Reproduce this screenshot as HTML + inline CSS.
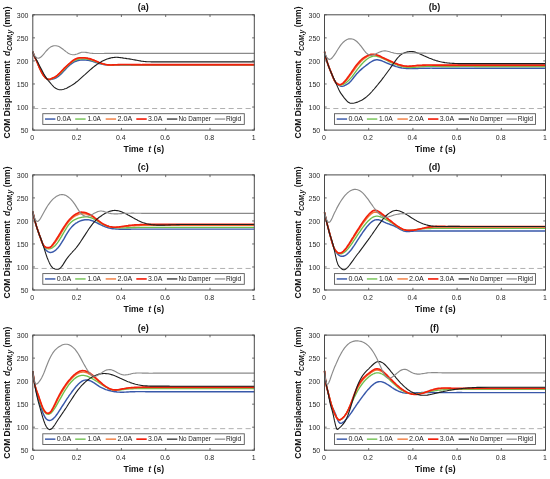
<!DOCTYPE html>
<html><head><meta charset="utf-8"><style>
html,body{margin:0;padding:0;background:#fff;}
svg{display:block;filter:blur(0.3px);}
text{font-family:"Liberation Sans",Arial,sans-serif;}
.tk{font-size:7.6px;fill:#262626;}
.lg{font-size:7.2px;fill:#222;}
.bl{font-size:9px;font-weight:bold;fill:#111;}
</style></head><body>
<svg width="550" height="479" viewBox="0 0 550 479">
<rect width="550" height="479" fill="#fff"/>
<g>
<line x1="33.10" y1="108.52" x2="253.30" y2="108.52" stroke="#b0b0b0" stroke-width="1" stroke-dasharray="5.1 3.4"/>
<path d="M32.8 51.7L33.9 55.1L35.0 57.7L36.1 60.0L37.2 62.3L38.3 64.9L39.4 67.6L40.6 70.1L41.7 72.4L42.8 74.3L43.9 75.9L45.0 77.2L46.1 78.2L47.2 78.9L48.3 79.4L49.4 79.6L50.5 79.6L51.6 79.4L52.7 79.1L53.8 78.8L55.0 78.3L56.1 77.8L57.2 77.1L58.3 76.4L59.4 75.5L60.5 74.5L61.6 73.4L62.7 72.3L63.8 71.1L64.9 69.9L66.0 68.7L67.1 67.6L68.2 66.5L69.3 65.4L70.5 64.5L71.6 63.6L72.7 62.9L73.8 62.2L74.9 61.6L76.0 61.2L77.1 60.8L78.2 60.5L79.3 60.3L80.4 60.1L81.5 60.0L82.6 60.0L83.7 60.0L84.9 60.0L86.0 60.1L87.1 60.2L88.2 60.4L89.3 60.6L90.4 60.8L91.5 61.1L92.6 61.4L93.7 61.7L94.8 62.1L95.9 62.5L97.0 62.8L98.1 63.2L99.2 63.5L100.4 63.8L101.5 64.1L102.6 64.3L103.7 64.5L104.8 64.7L105.9 64.8L107.0 64.9L108.1 65.0L109.2 65.0L110.3 65.1L111.4 65.1L112.5 65.1L113.6 65.0L114.8 65.0L115.9 65.0L117.0 65.0L118.1 65.0L119.2 64.9L120.3 64.9L121.4 64.9L122.5 64.9L123.6 64.9L124.7 64.9L125.8 64.9L126.9 64.9L128.0 64.9L129.2 64.9L130.3 64.9L131.4 65.0L132.5 65.0L133.6 65.0L134.7 65.0L135.8 65.0L136.9 65.0L138.0 65.0L139.1 65.0L140.2 65.0L141.3 65.0L142.4 65.0L143.6 65.0L144.7 65.0L145.8 65.0L146.9 65.0L148.0 65.0L149.1 65.0L150.2 65.0L151.3 65.0L152.4 65.0L153.5 65.0L154.6 65.0L155.7 65.0L156.8 65.0L157.9 65.0L159.1 65.0L160.2 65.0L161.3 65.0L162.4 65.0L163.5 65.0L164.6 65.0L165.7 65.0L166.8 65.0L167.9 65.0L169.0 65.0L170.1 65.0L171.2 65.0L172.3 65.0L173.5 65.0L174.6 65.0L175.7 65.0L176.8 65.0L177.9 65.0L179.0 65.0L180.1 65.0L181.2 65.0L182.3 65.0L183.4 65.0L184.5 65.0L185.6 65.0L186.7 65.0L187.8 65.0L198.9 65.0L210.0 65.0L221.1 65.0L232.1 65.0L243.2 65.0L254.3 65.0" fill="none" stroke="#3858aa" stroke-width="1.45" stroke-linejoin="round"/>
<path d="M32.8 51.7L33.9 55.1L35.0 57.7L36.1 60.0L37.2 62.3L38.3 64.9L39.4 67.6L40.6 70.1L41.7 72.4L42.8 74.3L43.9 75.9L45.0 77.3L46.1 78.3L47.2 79.1L48.3 79.4L49.4 79.5L50.5 79.3L51.6 78.9L52.7 78.5L53.8 78.0L55.0 77.4L56.1 76.8L57.2 76.0L58.3 75.2L59.4 74.3L60.5 73.3L61.6 72.2L62.7 71.1L63.8 69.9L64.9 68.7L66.0 67.5L67.1 66.4L68.2 65.3L69.3 64.3L70.5 63.3L71.6 62.5L72.7 61.7L73.8 61.0L74.9 60.5L76.0 60.0L77.1 59.6L78.2 59.3L79.3 59.1L80.4 59.0L81.5 58.9L82.6 58.8L83.7 58.9L84.9 58.9L86.0 59.0L87.1 59.2L88.2 59.4L89.3 59.6L90.4 59.9L91.5 60.2L92.6 60.6L93.7 61.0L94.8 61.4L95.9 61.8L97.0 62.2L98.1 62.6L99.2 63.0L100.4 63.4L101.5 63.7L102.6 64.0L103.7 64.2L104.8 64.4L105.9 64.6L107.0 64.7L108.1 64.8L109.2 64.9L110.3 65.0L111.4 65.0L112.5 65.0L113.6 64.9L114.8 64.9L115.9 64.9L117.0 64.8L118.1 64.8L119.2 64.8L120.3 64.8L121.4 64.8L122.5 64.8L123.6 64.8L124.7 64.8L125.8 64.8L126.9 64.8L128.0 64.8L129.2 64.8L130.3 64.8L131.4 64.8L132.5 64.8L133.6 64.8L134.7 64.8L135.8 64.8L136.9 64.9L138.0 64.9L139.1 64.9L140.2 64.9L141.3 64.9L142.4 64.9L143.6 64.9L144.7 64.9L145.8 64.9L146.9 64.9L148.0 64.9L149.1 64.8L150.2 64.8L151.3 64.8L152.4 64.8L153.5 64.8L154.6 64.8L155.7 64.8L156.8 64.8L157.9 64.8L159.1 64.8L160.2 64.8L161.3 64.8L162.4 64.8L163.5 64.8L164.6 64.8L165.7 64.8L166.8 64.8L167.9 64.8L169.0 64.8L170.1 64.8L171.2 64.8L172.3 64.8L173.5 64.8L174.6 64.8L175.7 64.8L176.8 64.8L177.9 64.8L179.0 64.8L180.1 64.8L181.2 64.8L182.3 64.8L183.4 64.8L184.5 64.8L185.6 64.8L186.7 64.8L187.8 64.8L198.9 64.8L210.0 64.8L221.1 64.8L232.1 64.8L243.2 64.8L254.3 64.8" fill="none" stroke="#6cbf4c" stroke-width="1.35" stroke-linejoin="round"/>
<path d="M32.8 51.7L33.9 55.1L35.0 57.7L36.1 60.0L37.2 62.3L38.3 64.9L39.4 67.6L40.6 70.1L41.7 72.4L42.8 74.3L43.9 76.0L45.0 77.3L46.1 78.4L47.2 79.1L48.3 79.4L49.4 79.4L50.5 79.1L51.6 78.7L52.7 78.2L53.8 77.7L55.0 77.1L56.1 76.4L57.2 75.6L58.3 74.7L59.4 73.6L60.5 72.5L61.6 71.4L62.7 70.2L63.8 69.1L64.9 67.9L66.0 66.9L67.1 65.8L68.2 64.8L69.3 63.8L70.5 62.8L71.6 61.9L72.7 61.0L73.8 60.3L74.9 59.6L76.0 59.1L77.1 58.7L78.2 58.4L79.3 58.2L80.4 58.1L81.5 58.0L82.6 58.0L83.7 58.1L84.9 58.2L86.0 58.3L87.1 58.4L88.2 58.7L89.3 58.9L90.4 59.2L91.5 59.6L92.6 60.0L93.7 60.4L94.8 60.8L95.9 61.3L97.0 61.7L98.1 62.2L99.2 62.6L100.4 63.0L101.5 63.4L102.6 63.8L103.7 64.1L104.8 64.3L105.9 64.6L107.0 64.7L108.1 64.9L109.2 64.9L110.3 65.0L111.4 65.0L112.5 64.9L113.6 64.9L114.8 64.8L115.9 64.8L117.0 64.7L118.1 64.7L119.2 64.6L120.3 64.6L121.4 64.6L122.5 64.6L123.6 64.6L124.7 64.6L125.8 64.6L126.9 64.6L128.0 64.6L129.2 64.6L130.3 64.6L131.4 64.6L132.5 64.6L133.6 64.7L134.7 64.7L135.8 64.7L136.9 64.7L138.0 64.7L139.1 64.7L140.2 64.7L141.3 64.7L142.4 64.7L143.6 64.7L144.7 64.7L145.8 64.7L146.9 64.7L148.0 64.7L149.1 64.7L150.2 64.7L151.3 64.7L152.4 64.7L153.5 64.7L154.6 64.7L155.7 64.7L156.8 64.7L157.9 64.7L159.1 64.7L160.2 64.7L161.3 64.7L162.4 64.7L163.5 64.7L164.6 64.7L165.7 64.7L166.8 64.7L167.9 64.7L169.0 64.7L170.1 64.7L171.2 64.7L172.3 64.7L173.5 64.7L174.6 64.7L175.7 64.7L176.8 64.7L177.9 64.7L179.0 64.7L180.1 64.7L181.2 64.7L182.3 64.7L183.4 64.7L184.5 64.7L185.6 64.7L186.7 64.7L187.8 64.7L198.9 64.7L210.0 64.7L221.1 64.7L232.1 64.7L243.2 64.7L254.3 64.7" fill="none" stroke="#f07a3c" stroke-width="1.4" stroke-linejoin="round"/>
<path d="M32.8 51.7L33.9 55.1L35.0 57.7L36.1 60.0L37.2 62.3L38.3 64.9L39.4 67.6L40.6 70.1L41.7 72.4L42.8 74.3L43.9 76.0L45.0 77.3L46.1 78.4L47.2 79.0L48.3 79.4L49.4 79.4L50.5 79.1L51.6 78.6L52.7 78.1L53.8 77.6L55.0 77.0L56.1 76.3L57.2 75.4L58.3 74.4L59.4 73.4L60.5 72.2L61.6 71.0L62.7 69.9L63.8 68.7L64.9 67.6L66.0 66.6L67.1 65.6L68.2 64.6L69.3 63.6L70.5 62.6L71.6 61.6L72.7 60.7L73.8 59.9L74.9 59.2L76.0 58.7L77.1 58.3L78.2 58.0L79.3 57.8L80.4 57.7L81.5 57.7L82.6 57.7L83.7 57.7L84.9 57.8L86.0 58.0L87.1 58.1L88.2 58.4L89.3 58.6L90.4 58.9L91.5 59.3L92.6 59.7L93.7 60.1L94.8 60.6L95.9 61.0L97.0 61.5L98.1 62.0L99.2 62.5L100.4 62.9L101.5 63.3L102.6 63.7L103.7 64.0L104.8 64.3L105.9 64.5L107.0 64.7L108.1 64.9L109.2 64.9L110.3 65.0L111.4 65.0L112.5 64.9L113.6 64.9L114.8 64.8L115.9 64.7L117.0 64.7L118.1 64.6L119.2 64.6L120.3 64.5L121.4 64.5L122.5 64.5L123.6 64.5L124.7 64.5L125.8 64.5L126.9 64.5L128.0 64.5L129.2 64.5L130.3 64.5L131.4 64.6L132.5 64.6L133.6 64.6L134.7 64.6L135.8 64.6L136.9 64.6L138.0 64.6L139.1 64.6L140.2 64.6L141.3 64.7L142.4 64.6L143.6 64.6L144.7 64.6L145.8 64.6L146.9 64.6L148.0 64.6L149.1 64.6L150.2 64.6L151.3 64.6L152.4 64.6L153.5 64.6L154.6 64.6L155.7 64.6L156.8 64.6L157.9 64.6L159.1 64.6L160.2 64.6L161.3 64.6L162.4 64.6L163.5 64.6L164.6 64.6L165.7 64.6L166.8 64.6L167.9 64.6L169.0 64.6L170.1 64.6L171.2 64.6L172.3 64.6L173.5 64.6L174.6 64.6L175.7 64.6L176.8 64.6L177.9 64.6L179.0 64.6L180.1 64.6L181.2 64.6L182.3 64.6L183.4 64.6L184.5 64.6L185.6 64.6L186.7 64.6L187.8 64.6L198.9 64.6L210.0 64.6L221.1 64.6L232.1 64.6L243.2 64.6L254.3 64.6" fill="none" stroke="#f2200c" stroke-width="1.65" stroke-linejoin="round"/>
<path d="M32.8 51.7L33.9 54.9L35.0 57.2L36.1 59.2L37.2 61.1L38.3 63.3L39.4 65.5L40.6 67.7L41.7 69.8L42.8 71.9L43.9 74.0L45.0 75.9L46.1 77.6L47.2 79.2L48.3 80.6L49.4 81.9L50.5 83.2L51.6 84.5L52.7 85.7L53.8 86.8L55.0 87.8L56.1 88.6L57.2 89.1L58.3 89.5L59.4 89.7L60.5 89.8L61.6 89.7L62.7 89.5L63.8 89.2L64.9 88.8L66.0 88.4L67.1 87.9L68.2 87.3L69.3 86.7L70.5 86.1L71.6 85.4L72.7 84.7L73.8 84.0L74.9 83.2L76.0 82.3L77.1 81.5L78.2 80.6L79.3 79.6L80.4 78.6L81.5 77.6L82.6 76.6L83.7 75.6L84.9 74.6L86.0 73.6L87.1 72.6L88.2 71.6L89.3 70.6L90.4 69.6L91.5 68.7L92.6 67.8L93.7 66.9L94.8 66.0L95.9 65.2L97.0 64.4L98.1 63.7L99.2 62.9L100.4 62.3L101.5 61.6L102.6 61.0L103.7 60.5L104.8 60.0L105.9 59.5L107.0 59.1L108.1 58.7L109.2 58.4L110.3 58.1L111.4 57.8L112.5 57.6L113.6 57.5L114.8 57.4L115.9 57.3L117.0 57.3L118.1 57.4L119.2 57.5L120.3 57.6L121.4 57.8L122.5 57.9L123.6 58.1L124.7 58.2L125.8 58.4L126.9 58.6L128.0 58.7L129.2 58.9L130.3 59.1L131.4 59.3L132.5 59.5L133.6 59.7L134.7 59.9L135.8 60.1L136.9 60.3L138.0 60.5L139.1 60.7L140.2 60.9L141.3 61.1L142.4 61.2L143.6 61.4L144.7 61.5L145.8 61.6L146.9 61.7L148.0 61.7L149.1 61.8L150.2 61.8L151.3 61.9L152.4 61.9L153.5 61.9L154.6 61.9L155.7 61.9L156.8 61.9L157.9 61.9L159.1 61.9L160.2 61.9L161.3 61.9L162.4 61.9L163.5 61.9L164.6 61.9L165.7 61.9L166.8 61.9L167.9 61.9L169.0 61.9L170.1 61.9L171.2 61.9L172.3 61.9L173.5 61.9L174.6 61.9L175.7 61.9L176.8 61.9L177.9 61.9L179.0 61.9L180.1 61.9L181.2 61.9L182.3 61.9L183.4 61.9L184.5 61.9L185.6 61.9L186.7 61.9L187.8 61.9L198.9 61.9L210.0 61.9L221.1 61.9L232.1 61.9L243.2 61.9L254.3 61.9" fill="none" stroke="#1e1e1e" stroke-width="1.1" stroke-linejoin="round"/>
<path d="M32.8 51.7L33.9 54.2L35.0 56.1L36.1 57.3L37.2 58.0L38.3 58.2L39.4 57.9L40.6 57.2L41.7 56.3L42.8 55.2L43.9 53.9L45.0 52.5L46.1 51.2L47.2 50.0L48.3 48.9L49.4 47.9L50.5 47.1L51.6 46.5L52.7 46.1L53.8 45.8L55.0 45.7L56.1 45.8L57.2 46.0L58.3 46.3L59.4 46.8L60.5 47.5L61.6 48.2L62.7 49.0L63.8 49.9L64.9 50.7L66.0 51.6L67.1 52.4L68.2 53.2L69.3 53.8L70.5 54.2L71.6 54.5L72.7 54.7L73.8 54.7L74.9 54.6L76.0 54.3L77.1 54.0L78.2 53.6L79.3 53.1L80.4 52.7L81.5 52.3L82.6 52.2L83.7 52.2L84.9 52.3L86.0 52.4L87.1 52.6L88.2 52.8L89.3 53.0L90.4 53.2L91.5 53.3L92.6 53.4L93.7 53.5L94.8 53.5L95.9 53.5L97.0 53.5L98.1 53.5L99.2 53.5L100.4 53.5L101.5 53.5L102.6 53.5L103.7 53.5L104.8 53.4L105.9 53.4L107.0 53.4L108.1 53.4L109.2 53.3L110.3 53.3L111.4 53.3L112.5 53.3L113.6 53.3L114.8 53.3L115.9 53.3L117.0 53.3L118.1 53.3L119.2 53.3L120.3 53.3L121.4 53.3L122.5 53.3L123.6 53.3L124.7 53.3L125.8 53.3L126.9 53.3L128.0 53.3L129.2 53.3L130.3 53.3L131.4 53.3L132.5 53.3L133.6 53.3L134.7 53.3L135.8 53.3L136.9 53.3L138.0 53.3L139.1 53.3L140.2 53.3L141.3 53.3L142.4 53.3L143.6 53.3L144.7 53.3L145.8 53.3L146.9 53.3L148.0 53.3L149.1 53.3L150.2 53.3L151.3 53.3L152.4 53.3L153.5 53.3L154.6 53.3L155.7 53.3L156.8 53.3L157.9 53.3L159.1 53.3L160.2 53.3L161.3 53.3L162.4 53.3L163.5 53.3L164.6 53.3L165.7 53.3L166.8 53.3L167.9 53.3L169.0 53.3L170.1 53.3L171.2 53.3L172.3 53.3L173.5 53.3L174.6 53.3L175.7 53.3L176.8 53.3L177.9 53.3L179.0 53.3L180.1 53.3L181.2 53.3L182.3 53.3L183.4 53.3L184.5 53.3L185.6 53.3L186.7 53.3L187.8 53.3L198.9 53.3L210.0 53.3L221.1 53.3L232.1 53.3L243.2 53.3L254.3 53.3" fill="none" stroke="#8a8a8a" stroke-width="1.15" stroke-linejoin="round"/>
<rect x="32.80" y="14.80" width="221.50" height="115.30" fill="none" stroke="#4a4a4a" stroke-width="1"/>
<line x1="32.80" y1="130.10" x2="32.80" y2="127.90" stroke="#4a4a4a" stroke-width="0.8"/>
<line x1="32.80" y1="14.80" x2="32.80" y2="17.00" stroke="#4a4a4a" stroke-width="0.8"/>
<text class="tk" x="32.20" y="140.00" text-anchor="middle" textLength="3.89" lengthAdjust="spacingAndGlyphs">0</text>
<line x1="77.10" y1="130.10" x2="77.10" y2="127.90" stroke="#4a4a4a" stroke-width="0.8"/>
<line x1="77.10" y1="14.80" x2="77.10" y2="17.00" stroke="#4a4a4a" stroke-width="0.8"/>
<text class="tk" x="76.50" y="140.00" text-anchor="middle" textLength="9.73" lengthAdjust="spacingAndGlyphs">0.2</text>
<line x1="121.40" y1="130.10" x2="121.40" y2="127.90" stroke="#4a4a4a" stroke-width="0.8"/>
<line x1="121.40" y1="14.80" x2="121.40" y2="17.00" stroke="#4a4a4a" stroke-width="0.8"/>
<text class="tk" x="120.80" y="140.00" text-anchor="middle" textLength="9.73" lengthAdjust="spacingAndGlyphs">0.4</text>
<line x1="165.70" y1="130.10" x2="165.70" y2="127.90" stroke="#4a4a4a" stroke-width="0.8"/>
<line x1="165.70" y1="14.80" x2="165.70" y2="17.00" stroke="#4a4a4a" stroke-width="0.8"/>
<text class="tk" x="165.10" y="140.00" text-anchor="middle" textLength="9.73" lengthAdjust="spacingAndGlyphs">0.6</text>
<line x1="210.00" y1="130.10" x2="210.00" y2="127.90" stroke="#4a4a4a" stroke-width="0.8"/>
<line x1="210.00" y1="14.80" x2="210.00" y2="17.00" stroke="#4a4a4a" stroke-width="0.8"/>
<text class="tk" x="209.40" y="140.00" text-anchor="middle" textLength="9.73" lengthAdjust="spacingAndGlyphs">0.8</text>
<line x1="254.30" y1="130.10" x2="254.30" y2="127.90" stroke="#4a4a4a" stroke-width="0.8"/>
<line x1="254.30" y1="14.80" x2="254.30" y2="17.00" stroke="#4a4a4a" stroke-width="0.8"/>
<text class="tk" x="253.70" y="140.00" text-anchor="middle" textLength="3.89" lengthAdjust="spacingAndGlyphs">1</text>
<line x1="32.80" y1="130.10" x2="35.00" y2="130.10" stroke="#4a4a4a" stroke-width="0.8"/>
<line x1="254.30" y1="130.10" x2="252.10" y2="130.10" stroke="#4a4a4a" stroke-width="0.8"/>
<text class="tk" x="28.50" y="132.80" text-anchor="end" textLength="7.78" lengthAdjust="spacingAndGlyphs">50</text>
<line x1="32.80" y1="107.04" x2="35.00" y2="107.04" stroke="#4a4a4a" stroke-width="0.8"/>
<line x1="254.30" y1="107.04" x2="252.10" y2="107.04" stroke="#4a4a4a" stroke-width="0.8"/>
<text class="tk" x="28.50" y="109.74" text-anchor="end" textLength="11.68" lengthAdjust="spacingAndGlyphs">100</text>
<line x1="32.80" y1="83.98" x2="35.00" y2="83.98" stroke="#4a4a4a" stroke-width="0.8"/>
<line x1="254.30" y1="83.98" x2="252.10" y2="83.98" stroke="#4a4a4a" stroke-width="0.8"/>
<text class="tk" x="28.50" y="86.68" text-anchor="end" textLength="11.68" lengthAdjust="spacingAndGlyphs">150</text>
<line x1="32.80" y1="60.92" x2="35.00" y2="60.92" stroke="#4a4a4a" stroke-width="0.8"/>
<line x1="254.30" y1="60.92" x2="252.10" y2="60.92" stroke="#4a4a4a" stroke-width="0.8"/>
<text class="tk" x="28.50" y="63.62" text-anchor="end" textLength="11.68" lengthAdjust="spacingAndGlyphs">200</text>
<line x1="32.80" y1="37.86" x2="35.00" y2="37.86" stroke="#4a4a4a" stroke-width="0.8"/>
<line x1="254.30" y1="37.86" x2="252.10" y2="37.86" stroke="#4a4a4a" stroke-width="0.8"/>
<text class="tk" x="28.50" y="40.56" text-anchor="end" textLength="11.68" lengthAdjust="spacingAndGlyphs">250</text>
<line x1="32.80" y1="14.80" x2="35.00" y2="14.80" stroke="#4a4a4a" stroke-width="0.8"/>
<line x1="254.30" y1="14.80" x2="252.10" y2="14.80" stroke="#4a4a4a" stroke-width="0.8"/>
<text class="tk" x="28.50" y="17.50" text-anchor="end" textLength="11.68" lengthAdjust="spacingAndGlyphs">300</text>
<text class="bl" x="143.15" y="10.20" text-anchor="middle">(a)</text>
<text class="bl" x="143.85" y="151.80" text-anchor="middle" transform="translate(143.85 0) scale(0.96 1) translate(-143.85 0)">Time&#160;&#160;<tspan font-style="italic">t</tspan> (s)</text>
<text class="bl" transform="translate(9.70 72.45) rotate(-90) scale(0.95 1)" text-anchor="middle">COM Displacement&#160;&#160;<tspan font-style="italic">d</tspan><tspan font-style="italic" font-size="7px" dy="2.6">COM,y</tspan><tspan dy="-2.6"> (mm)</tspan></text>
<rect x="42.80" y="113.70" width="201.50" height="10.70" fill="#fff" stroke="#5a5a5a" stroke-width="0.9"/>
<line x1="45.00" y1="119.05" x2="55.40" y2="119.05" stroke="#3858aa" stroke-width="1.45"/>
<text class="lg" x="56.70" y="121.35" textLength="14.6" lengthAdjust="spacingAndGlyphs">0.0A</text>
<line x1="75.20" y1="119.05" x2="85.60" y2="119.05" stroke="#6cbf4c" stroke-width="1.35"/>
<text class="lg" x="87.40" y="121.35" textLength="13.6" lengthAdjust="spacingAndGlyphs">1.0A</text>
<line x1="105.70" y1="119.05" x2="116.10" y2="119.05" stroke="#f07a3c" stroke-width="1.4"/>
<text class="lg" x="117.40" y="121.35" textLength="14.8" lengthAdjust="spacingAndGlyphs">2.0A</text>
<line x1="136.30" y1="119.05" x2="146.70" y2="119.05" stroke="#f2200c" stroke-width="1.65"/>
<text class="lg" x="148.00" y="121.35" textLength="14.4" lengthAdjust="spacingAndGlyphs">3.0A</text>
<line x1="166.90" y1="119.05" x2="177.30" y2="119.05" stroke="#1e1e1e" stroke-width="1.2"/>
<text class="lg" x="178.40" y="121.35" textLength="32.4" lengthAdjust="spacingAndGlyphs">No Damper</text>
<line x1="214.80" y1="119.05" x2="225.20" y2="119.05" stroke="#8a8a8a" stroke-width="1.2"/>
<text class="lg" x="226.00" y="121.35" textLength="15.2" lengthAdjust="spacingAndGlyphs">Rigid</text>
</g>
<g>
<line x1="324.80" y1="108.52" x2="544.50" y2="108.52" stroke="#b0b0b0" stroke-width="1" stroke-dasharray="5.1 3.4"/>
<path d="M324.5 51.7L325.6 56.4L326.7 60.4L327.8 63.9L328.9 67.0L330.0 69.7L331.1 72.4L332.2 75.2L333.3 77.9L334.4 80.3L335.6 82.3L336.7 83.7L337.8 84.7L338.9 85.4L340.0 85.9L341.1 86.3L342.2 86.4L343.3 86.1L344.4 85.7L345.5 85.1L346.6 84.5L347.7 83.9L348.8 83.1L349.9 82.1L351.0 81.0L352.1 79.6L353.2 78.2L354.3 76.8L355.4 75.5L356.5 74.1L357.6 72.9L358.8 71.7L359.9 70.6L361.0 69.6L362.1 68.6L363.2 67.7L364.3 66.8L365.4 66.0L366.5 65.1L367.6 64.3L368.7 63.5L369.8 62.7L370.9 62.0L372.0 61.3L373.1 60.7L374.2 60.3L375.3 60.0L376.4 59.8L377.5 59.8L378.6 60.0L379.8 60.2L380.9 60.5L382.0 60.9L383.1 61.4L384.2 61.8L385.3 62.3L386.4 62.8L387.5 63.3L388.6 63.7L389.7 64.2L390.8 64.6L391.9 65.0L393.0 65.5L394.1 65.8L395.2 66.2L396.3 66.6L397.4 66.9L398.5 67.2L399.6 67.5L400.7 67.7L401.9 68.0L403.0 68.1L404.1 68.3L405.2 68.4L406.3 68.5L407.4 68.6L408.5 68.6L409.6 68.6L410.7 68.6L411.8 68.6L412.9 68.5L414.0 68.5L415.1 68.5L416.2 68.4L417.3 68.4L418.4 68.4L419.5 68.3L420.6 68.3L421.7 68.3L422.8 68.2L423.9 68.2L425.1 68.2L426.2 68.2L427.3 68.2L428.4 68.2L429.5 68.2L430.6 68.1L431.7 68.1L432.8 68.2L433.9 68.2L435.0 68.2L436.1 68.2L437.2 68.2L438.3 68.2L439.4 68.2L440.5 68.2L441.6 68.2L442.7 68.2L443.8 68.2L444.9 68.2L446.1 68.2L447.2 68.2L448.3 68.2L449.4 68.2L450.5 68.2L451.6 68.2L452.7 68.2L453.8 68.2L454.9 68.2L456.0 68.2L457.1 68.2L458.2 68.2L459.3 68.2L460.4 68.2L461.5 68.2L462.6 68.2L463.7 68.2L464.8 68.2L465.9 68.2L467.0 68.2L468.1 68.2L469.3 68.2L470.4 68.2L471.5 68.2L472.6 68.2L473.7 68.2L474.8 68.2L475.9 68.2L477.0 68.2L478.1 68.2L479.2 68.2L490.2 68.2L501.3 68.2L512.4 68.2L523.4 68.2L534.5 68.2L545.5 68.2" fill="none" stroke="#3858aa" stroke-width="1.45" stroke-linejoin="round"/>
<path d="M324.5 51.7L325.6 56.5L326.7 60.5L327.8 63.9L328.9 66.9L330.0 69.7L331.1 72.4L332.2 75.2L333.3 78.0L334.4 80.5L335.6 82.3L336.7 83.4L337.8 84.1L338.9 84.8L340.0 85.1L341.1 85.1L342.2 84.8L343.3 84.4L344.4 83.7L345.5 83.0L346.6 82.2L347.7 81.3L348.8 80.3L349.9 79.1L351.0 77.9L352.1 76.6L353.2 75.1L354.3 73.7L355.4 72.2L356.5 70.7L357.6 69.2L358.8 67.7L359.9 66.3L361.0 65.0L362.1 63.8L363.2 62.6L364.3 61.5L365.4 60.5L366.5 59.5L367.6 58.7L368.7 58.0L369.8 57.3L370.9 56.8L372.0 56.5L373.1 56.2L374.2 56.1L375.3 56.1L376.4 56.2L377.5 56.5L378.6 56.8L379.8 57.2L380.9 57.7L382.0 58.2L383.1 58.7L384.2 59.2L385.3 59.7L386.4 60.2L387.5 60.7L388.6 61.3L389.7 61.8L390.8 62.3L391.9 62.8L393.0 63.3L394.1 63.8L395.2 64.2L396.3 64.7L397.4 65.1L398.5 65.5L399.6 65.8L400.7 66.2L401.9 66.5L403.0 66.7L404.1 67.0L405.2 67.1L406.3 67.3L407.4 67.4L408.5 67.4L409.6 67.5L410.7 67.5L411.8 67.5L412.9 67.4L414.0 67.3L415.1 67.3L416.2 67.2L417.3 67.1L418.4 67.0L419.5 66.8L420.6 66.7L421.7 66.6L422.8 66.5L423.9 66.5L425.1 66.4L426.2 66.3L427.3 66.3L428.4 66.3L429.5 66.3L430.6 66.3L431.7 66.3L432.8 66.3L433.9 66.3L435.0 66.3L436.1 66.3L437.2 66.4L438.3 66.4L439.4 66.4L440.5 66.4L441.6 66.5L442.7 66.5L443.8 66.5L444.9 66.5L446.1 66.5L447.2 66.5L448.3 66.5L449.4 66.5L450.5 66.5L451.6 66.5L452.7 66.5L453.8 66.5L454.9 66.5L456.0 66.5L457.1 66.5L458.2 66.5L459.3 66.5L460.4 66.4L461.5 66.4L462.6 66.4L463.7 66.4L464.8 66.4L465.9 66.4L467.0 66.4L468.1 66.4L469.3 66.4L470.4 66.4L471.5 66.4L472.6 66.4L473.7 66.4L474.8 66.5L475.9 66.5L477.0 66.5L478.1 66.5L479.2 66.5L490.2 66.5L501.3 66.5L512.4 66.5L523.4 66.5L534.5 66.5L545.5 66.5" fill="none" stroke="#6cbf4c" stroke-width="1.35" stroke-linejoin="round"/>
<path d="M324.5 51.7L325.6 56.5L326.7 60.5L327.8 63.9L328.9 66.9L330.0 69.7L331.1 72.4L332.2 75.2L333.3 78.0L334.4 80.5L335.6 82.3L336.7 83.4L337.8 84.0L338.9 84.6L340.0 84.8L341.1 84.6L342.2 84.1L343.3 83.3L344.4 82.3L345.5 81.2L346.6 80.0L347.7 78.7L348.8 77.3L349.9 75.8L351.0 74.4L352.1 72.9L353.2 71.3L354.3 69.8L355.4 68.3L356.5 66.8L357.6 65.3L358.8 64.0L359.9 62.7L361.0 61.5L362.1 60.5L363.2 59.5L364.3 58.6L365.4 57.8L366.5 57.1L367.6 56.5L368.7 55.9L369.8 55.5L370.9 55.2L372.0 54.9L373.1 54.8L374.2 54.8L375.3 55.0L376.4 55.2L377.5 55.6L378.6 56.0L379.8 56.5L380.9 57.0L382.0 57.5L383.1 58.0L384.2 58.5L385.3 59.0L386.4 59.6L387.5 60.1L388.6 60.6L389.7 61.1L390.8 61.6L391.9 62.1L393.0 62.6L394.1 63.0L395.2 63.5L396.3 63.9L397.4 64.4L398.5 64.8L399.6 65.1L400.7 65.5L401.9 65.7L403.0 66.0L404.1 66.2L405.2 66.4L406.3 66.5L407.4 66.5L408.5 66.5L409.6 66.5L410.7 66.5L411.8 66.4L412.9 66.3L414.0 66.2L415.1 66.1L416.2 66.0L417.3 65.9L418.4 65.8L419.5 65.7L420.6 65.7L421.7 65.6L422.8 65.5L423.9 65.5L425.1 65.5L426.2 65.4L427.3 65.4L428.4 65.4L429.5 65.4L430.6 65.4L431.7 65.4L432.8 65.4L433.9 65.4L435.0 65.4L436.1 65.5L437.2 65.5L438.3 65.5L439.4 65.5L440.5 65.5L441.6 65.5L442.7 65.5L443.8 65.5L444.9 65.5L446.1 65.5L447.2 65.5L448.3 65.5L449.4 65.5L450.5 65.5L451.6 65.5L452.7 65.5L453.8 65.5L454.9 65.5L456.0 65.5L457.1 65.5L458.2 65.5L459.3 65.5L460.4 65.5L461.5 65.5L462.6 65.5L463.7 65.5L464.8 65.5L465.9 65.5L467.0 65.5L468.1 65.5L469.3 65.5L470.4 65.5L471.5 65.5L472.6 65.5L473.7 65.5L474.8 65.5L475.9 65.5L477.0 65.5L478.1 65.5L479.2 65.5L490.2 65.5L501.3 65.5L512.4 65.5L523.4 65.5L534.5 65.5L545.5 65.5" fill="none" stroke="#f07a3c" stroke-width="1.4" stroke-linejoin="round"/>
<path d="M324.5 51.7L325.6 56.5L326.7 60.5L327.8 63.9L328.9 66.9L330.0 69.7L331.1 72.4L332.2 75.2L333.3 78.0L334.4 80.5L335.6 82.3L336.7 83.3L337.8 84.0L338.9 84.5L340.0 84.6L341.1 84.3L342.2 83.7L343.3 82.8L344.4 81.7L345.5 80.4L346.6 79.0L347.7 77.5L348.8 76.0L349.9 74.4L351.0 72.9L352.1 71.3L353.2 69.7L354.3 68.1L355.4 66.6L356.5 65.1L357.6 63.7L358.8 62.4L359.9 61.1L361.0 60.0L362.1 59.0L363.2 58.2L364.3 57.4L365.4 56.7L366.5 56.1L367.6 55.5L368.7 55.1L369.8 54.7L370.9 54.4L372.0 54.3L373.1 54.2L374.2 54.3L375.3 54.5L376.4 54.8L377.5 55.2L378.6 55.6L379.8 56.1L380.9 56.6L382.0 57.2L383.1 57.7L384.2 58.2L385.3 58.8L386.4 59.3L387.5 59.8L388.6 60.3L389.7 60.8L390.8 61.3L391.9 61.8L393.0 62.3L394.1 62.7L395.2 63.2L396.3 63.6L397.4 64.1L398.5 64.5L399.6 64.8L400.7 65.1L401.9 65.4L403.0 65.7L404.1 65.9L405.2 66.0L406.3 66.1L407.4 66.2L408.5 66.2L409.6 66.1L410.7 66.1L411.8 66.0L412.9 65.9L414.0 65.8L415.1 65.7L416.2 65.5L417.3 65.4L418.4 65.3L419.5 65.3L420.6 65.2L421.7 65.2L422.8 65.1L423.9 65.1L425.1 65.1L426.2 65.0L427.3 65.0L428.4 65.0L429.5 65.0L430.6 65.0L431.7 65.0L432.8 65.1L433.9 65.1L435.0 65.1L436.1 65.1L437.2 65.1L438.3 65.1L439.4 65.1L440.5 65.1L441.6 65.1L442.7 65.1L443.8 65.1L444.9 65.1L446.1 65.1L447.2 65.1L448.3 65.1L449.4 65.1L450.5 65.1L451.6 65.1L452.7 65.1L453.8 65.1L454.9 65.1L456.0 65.1L457.1 65.1L458.2 65.1L459.3 65.1L460.4 65.1L461.5 65.1L462.6 65.1L463.7 65.1L464.8 65.1L465.9 65.1L467.0 65.1L468.1 65.1L469.3 65.1L470.4 65.1L471.5 65.1L472.6 65.1L473.7 65.1L474.8 65.1L475.9 65.1L477.0 65.1L478.1 65.1L479.2 65.1L490.2 65.1L501.3 65.1L512.4 65.1L523.4 65.1L534.5 65.1L545.5 65.1" fill="none" stroke="#f2200c" stroke-width="1.65" stroke-linejoin="round"/>
<path d="M324.5 51.7L325.6 56.3L326.7 60.4L327.8 63.9L328.9 67.1L330.0 69.9L331.1 72.5L332.2 75.0L333.3 77.4L334.4 79.8L335.6 82.3L336.7 84.9L337.8 87.4L338.9 89.8L340.0 91.9L341.1 93.7L342.2 95.2L343.3 96.7L344.4 98.1L345.5 99.4L346.6 100.7L347.7 101.8L348.8 102.6L349.9 103.1L351.0 103.3L352.1 103.3L353.2 103.2L354.3 103.0L355.4 102.7L356.5 102.4L357.6 102.1L358.8 101.6L359.9 101.1L361.0 100.6L362.1 100.0L363.2 99.3L364.3 98.5L365.4 97.7L366.5 96.9L367.6 95.9L368.7 94.9L369.8 93.8L370.9 92.7L372.0 91.5L373.1 90.2L374.2 89.0L375.3 87.7L376.4 86.3L377.5 85.0L378.6 83.6L379.8 82.2L380.9 80.8L382.0 79.4L383.1 77.9L384.2 76.5L385.3 75.0L386.4 73.5L387.5 72.0L388.6 70.5L389.7 69.0L390.8 67.4L391.9 65.8L393.0 64.3L394.1 62.7L395.2 61.1L396.3 59.6L397.4 58.2L398.5 57.0L399.6 55.8L400.7 54.9L401.9 54.1L403.0 53.4L404.1 52.9L405.2 52.5L406.3 52.2L407.4 51.9L408.5 51.7L409.6 51.5L410.7 51.5L411.8 51.5L412.9 51.6L414.0 51.8L415.1 52.1L416.2 52.5L417.3 52.9L418.4 53.3L419.5 53.8L420.6 54.2L421.7 54.7L422.8 55.2L423.9 55.7L425.1 56.2L426.2 56.7L427.3 57.2L428.4 57.7L429.5 58.2L430.6 58.6L431.7 59.0L432.8 59.5L433.9 59.9L435.0 60.2L436.1 60.6L437.2 60.9L438.3 61.2L439.4 61.5L440.5 61.8L441.6 62.0L442.7 62.2L443.8 62.4L444.9 62.6L446.1 62.7L447.2 62.9L448.3 63.0L449.4 63.1L450.5 63.2L451.6 63.3L452.7 63.4L453.8 63.4L454.9 63.5L456.0 63.5L457.1 63.5L458.2 63.6L459.3 63.6L460.4 63.6L461.5 63.6L462.6 63.6L463.7 63.6L464.8 63.6L465.9 63.6L467.0 63.6L468.1 63.6L469.3 63.6L470.4 63.6L471.5 63.6L472.6 63.6L473.7 63.6L474.8 63.6L475.9 63.6L477.0 63.6L478.1 63.6L479.2 63.6L490.2 63.6L501.3 63.6L512.4 63.6L523.4 63.6L534.5 63.6L545.5 63.6" fill="none" stroke="#1e1e1e" stroke-width="1.1" stroke-linejoin="round"/>
<path d="M324.5 51.7L325.6 54.8L326.7 57.1L327.8 58.6L328.9 59.3L330.0 59.3L331.1 58.7L332.2 57.7L333.3 56.3L334.4 54.8L335.6 53.1L336.7 51.3L337.8 49.5L338.9 47.8L340.0 46.2L341.1 44.7L342.2 43.4L343.3 42.2L344.4 41.2L345.5 40.4L346.6 39.7L347.7 39.3L348.8 38.9L349.9 38.8L351.0 38.8L352.1 39.0L353.2 39.3L354.3 39.8L355.4 40.5L356.5 41.3L357.6 42.3L358.8 43.5L359.9 44.8L361.0 46.2L362.1 47.7L363.2 49.2L364.3 50.7L365.4 52.0L366.5 53.1L367.6 54.0L368.7 54.7L369.8 55.1L370.9 55.3L372.0 55.3L373.1 55.0L374.2 54.7L375.3 54.2L376.4 53.6L377.5 53.1L378.6 52.5L379.8 52.0L380.9 51.6L382.0 51.2L383.1 51.0L384.2 50.9L385.3 50.9L386.4 51.0L387.5 51.2L388.6 51.5L389.7 51.8L390.8 52.2L391.9 52.5L393.0 52.8L394.1 53.1L395.2 53.3L396.3 53.5L397.4 53.6L398.5 53.6L399.6 53.6L400.7 53.5L401.9 53.4L403.0 53.3L404.1 53.2L405.2 53.1L406.3 53.0L407.4 53.0L408.5 53.0L409.6 53.0L410.7 53.0L411.8 53.0L412.9 53.0L414.0 53.0L415.1 53.0L416.2 53.0L417.3 53.0L418.4 53.1L419.5 53.1L420.6 53.1L421.7 53.1L422.8 53.1L423.9 53.1L425.1 53.1L426.2 53.2L427.3 53.2L428.4 53.2L429.5 53.2L430.6 53.2L431.7 53.2L432.8 53.2L433.9 53.2L435.0 53.2L436.1 53.2L437.2 53.2L438.3 53.2L439.4 53.2L440.5 53.2L441.6 53.2L442.7 53.2L443.8 53.2L444.9 53.2L446.1 53.2L447.2 53.2L448.3 53.2L449.4 53.2L450.5 53.2L451.6 53.2L452.7 53.2L453.8 53.2L454.9 53.2L456.0 53.2L457.1 53.2L458.2 53.2L459.3 53.2L460.4 53.2L461.5 53.2L462.6 53.2L463.7 53.2L464.8 53.2L465.9 53.2L467.0 53.2L468.1 53.2L469.3 53.2L470.4 53.2L471.5 53.2L472.6 53.2L473.7 53.2L474.8 53.2L475.9 53.2L477.0 53.2L478.1 53.2L479.2 53.2L490.2 53.2L501.3 53.2L512.4 53.2L523.4 53.2L534.5 53.2L545.5 53.2" fill="none" stroke="#8a8a8a" stroke-width="1.15" stroke-linejoin="round"/>
<rect x="324.50" y="14.80" width="221.00" height="115.30" fill="none" stroke="#4a4a4a" stroke-width="1"/>
<line x1="324.50" y1="130.10" x2="324.50" y2="127.90" stroke="#4a4a4a" stroke-width="0.8"/>
<line x1="324.50" y1="14.80" x2="324.50" y2="17.00" stroke="#4a4a4a" stroke-width="0.8"/>
<text class="tk" x="323.90" y="140.00" text-anchor="middle" textLength="3.89" lengthAdjust="spacingAndGlyphs">0</text>
<line x1="368.70" y1="130.10" x2="368.70" y2="127.90" stroke="#4a4a4a" stroke-width="0.8"/>
<line x1="368.70" y1="14.80" x2="368.70" y2="17.00" stroke="#4a4a4a" stroke-width="0.8"/>
<text class="tk" x="368.10" y="140.00" text-anchor="middle" textLength="9.73" lengthAdjust="spacingAndGlyphs">0.2</text>
<line x1="412.90" y1="130.10" x2="412.90" y2="127.90" stroke="#4a4a4a" stroke-width="0.8"/>
<line x1="412.90" y1="14.80" x2="412.90" y2="17.00" stroke="#4a4a4a" stroke-width="0.8"/>
<text class="tk" x="412.30" y="140.00" text-anchor="middle" textLength="9.73" lengthAdjust="spacingAndGlyphs">0.4</text>
<line x1="457.10" y1="130.10" x2="457.10" y2="127.90" stroke="#4a4a4a" stroke-width="0.8"/>
<line x1="457.10" y1="14.80" x2="457.10" y2="17.00" stroke="#4a4a4a" stroke-width="0.8"/>
<text class="tk" x="456.50" y="140.00" text-anchor="middle" textLength="9.73" lengthAdjust="spacingAndGlyphs">0.6</text>
<line x1="501.30" y1="130.10" x2="501.30" y2="127.90" stroke="#4a4a4a" stroke-width="0.8"/>
<line x1="501.30" y1="14.80" x2="501.30" y2="17.00" stroke="#4a4a4a" stroke-width="0.8"/>
<text class="tk" x="500.70" y="140.00" text-anchor="middle" textLength="9.73" lengthAdjust="spacingAndGlyphs">0.8</text>
<line x1="545.50" y1="130.10" x2="545.50" y2="127.90" stroke="#4a4a4a" stroke-width="0.8"/>
<line x1="545.50" y1="14.80" x2="545.50" y2="17.00" stroke="#4a4a4a" stroke-width="0.8"/>
<text class="tk" x="544.90" y="140.00" text-anchor="middle" textLength="3.89" lengthAdjust="spacingAndGlyphs">1</text>
<line x1="324.50" y1="130.10" x2="326.70" y2="130.10" stroke="#4a4a4a" stroke-width="0.8"/>
<line x1="545.50" y1="130.10" x2="543.30" y2="130.10" stroke="#4a4a4a" stroke-width="0.8"/>
<text class="tk" x="320.20" y="132.80" text-anchor="end" textLength="7.78" lengthAdjust="spacingAndGlyphs">50</text>
<line x1="324.50" y1="107.04" x2="326.70" y2="107.04" stroke="#4a4a4a" stroke-width="0.8"/>
<line x1="545.50" y1="107.04" x2="543.30" y2="107.04" stroke="#4a4a4a" stroke-width="0.8"/>
<text class="tk" x="320.20" y="109.74" text-anchor="end" textLength="11.68" lengthAdjust="spacingAndGlyphs">100</text>
<line x1="324.50" y1="83.98" x2="326.70" y2="83.98" stroke="#4a4a4a" stroke-width="0.8"/>
<line x1="545.50" y1="83.98" x2="543.30" y2="83.98" stroke="#4a4a4a" stroke-width="0.8"/>
<text class="tk" x="320.20" y="86.68" text-anchor="end" textLength="11.68" lengthAdjust="spacingAndGlyphs">150</text>
<line x1="324.50" y1="60.92" x2="326.70" y2="60.92" stroke="#4a4a4a" stroke-width="0.8"/>
<line x1="545.50" y1="60.92" x2="543.30" y2="60.92" stroke="#4a4a4a" stroke-width="0.8"/>
<text class="tk" x="320.20" y="63.62" text-anchor="end" textLength="11.68" lengthAdjust="spacingAndGlyphs">200</text>
<line x1="324.50" y1="37.86" x2="326.70" y2="37.86" stroke="#4a4a4a" stroke-width="0.8"/>
<line x1="545.50" y1="37.86" x2="543.30" y2="37.86" stroke="#4a4a4a" stroke-width="0.8"/>
<text class="tk" x="320.20" y="40.56" text-anchor="end" textLength="11.68" lengthAdjust="spacingAndGlyphs">250</text>
<line x1="324.50" y1="14.80" x2="326.70" y2="14.80" stroke="#4a4a4a" stroke-width="0.8"/>
<line x1="545.50" y1="14.80" x2="543.30" y2="14.80" stroke="#4a4a4a" stroke-width="0.8"/>
<text class="tk" x="320.20" y="17.50" text-anchor="end" textLength="11.68" lengthAdjust="spacingAndGlyphs">300</text>
<text class="bl" x="434.60" y="10.20" text-anchor="middle">(b)</text>
<text class="bl" x="435.30" y="151.80" text-anchor="middle" transform="translate(435.30 0) scale(0.96 1) translate(-435.30 0)">Time&#160;&#160;<tspan font-style="italic">t</tspan> (s)</text>
<text class="bl" transform="translate(301.40 72.45) rotate(-90) scale(0.95 1)" text-anchor="middle">COM Displacement&#160;&#160;<tspan font-style="italic">d</tspan><tspan font-style="italic" font-size="7px" dy="2.6">COM,y</tspan><tspan dy="-2.6"> (mm)</tspan></text>
<rect x="334.50" y="113.70" width="201.00" height="10.70" fill="#fff" stroke="#5a5a5a" stroke-width="0.9"/>
<line x1="336.70" y1="119.05" x2="347.10" y2="119.05" stroke="#3858aa" stroke-width="1.45"/>
<text class="lg" x="348.40" y="121.35" textLength="14.6" lengthAdjust="spacingAndGlyphs">0.0A</text>
<line x1="366.90" y1="119.05" x2="377.30" y2="119.05" stroke="#6cbf4c" stroke-width="1.35"/>
<text class="lg" x="379.10" y="121.35" textLength="13.6" lengthAdjust="spacingAndGlyphs">1.0A</text>
<line x1="397.40" y1="119.05" x2="407.80" y2="119.05" stroke="#f07a3c" stroke-width="1.4"/>
<text class="lg" x="409.10" y="121.35" textLength="14.8" lengthAdjust="spacingAndGlyphs">2.0A</text>
<line x1="428.00" y1="119.05" x2="438.40" y2="119.05" stroke="#f2200c" stroke-width="1.65"/>
<text class="lg" x="439.70" y="121.35" textLength="14.4" lengthAdjust="spacingAndGlyphs">3.0A</text>
<line x1="458.60" y1="119.05" x2="469.00" y2="119.05" stroke="#1e1e1e" stroke-width="1.2"/>
<text class="lg" x="470.10" y="121.35" textLength="32.4" lengthAdjust="spacingAndGlyphs">No Damper</text>
<line x1="506.50" y1="119.05" x2="516.90" y2="119.05" stroke="#8a8a8a" stroke-width="1.2"/>
<text class="lg" x="517.70" y="121.35" textLength="15.2" lengthAdjust="spacingAndGlyphs">Rigid</text>
</g>
<g>
<line x1="33.10" y1="268.45" x2="253.30" y2="268.45" stroke="#b0b0b0" stroke-width="1" stroke-dasharray="5.1 3.4"/>
<path d="M32.8 211.6L33.9 216.8L35.0 221.2L36.1 225.1L37.2 228.6L38.3 231.8L39.4 234.9L40.6 238.1L41.7 241.3L42.8 244.1L43.9 246.6L45.0 248.7L46.1 250.2L47.2 251.2L48.3 251.9L49.4 252.3L50.5 252.5L51.6 252.3L52.7 252.0L53.8 251.4L55.0 250.6L56.1 249.7L57.2 248.6L58.3 247.4L59.4 246.0L60.5 244.4L61.6 242.7L62.7 240.9L63.8 239.1L64.9 237.1L66.0 235.2L67.1 233.4L68.2 231.6L69.3 229.9L70.5 228.4L71.6 227.1L72.7 225.9L73.8 224.9L74.9 224.0L76.0 223.2L77.1 222.6L78.2 221.9L79.3 221.4L80.4 220.9L81.5 220.5L82.6 220.2L83.7 220.0L84.9 219.8L86.0 219.7L87.1 219.7L88.2 219.8L89.3 219.9L90.4 220.2L91.5 220.5L92.6 220.9L93.7 221.3L94.8 221.8L95.9 222.3L97.0 222.9L98.1 223.5L99.2 224.0L100.4 224.6L101.5 225.1L102.6 225.7L103.7 226.1L104.8 226.6L105.9 227.0L107.0 227.4L108.1 227.8L109.2 228.1L110.3 228.3L111.4 228.5L112.5 228.7L113.6 228.8L114.8 228.9L115.9 229.0L117.0 229.1L118.1 229.1L119.2 229.2L120.3 229.2L121.4 229.2L122.5 229.2L123.6 229.2L124.7 229.2L125.8 229.2L126.9 229.2L128.0 229.2L129.2 229.2L130.3 229.2L131.4 229.1L132.5 229.1L133.6 229.1L134.7 229.1L135.8 229.1L136.9 229.1L138.0 229.1L139.1 229.1L140.2 229.1L141.3 229.1L142.4 229.1L143.6 229.1L144.7 229.1L145.8 229.1L146.9 229.1L148.0 229.1L149.1 229.1L150.2 229.1L151.3 229.1L152.4 229.1L153.5 229.1L154.6 229.1L155.7 229.1L156.8 229.1L157.9 229.1L159.1 229.1L160.2 229.1L161.3 229.1L162.4 229.1L163.5 229.1L164.6 229.1L165.7 229.1L166.8 229.1L167.9 229.1L169.0 229.1L170.1 229.1L171.2 229.1L172.3 229.1L173.5 229.1L174.6 229.1L175.7 229.1L176.8 229.1L177.9 229.1L179.0 229.1L180.1 229.1L181.2 229.1L182.3 229.1L183.4 229.1L184.5 229.1L185.6 229.1L186.7 229.1L187.8 229.1L198.9 229.1L210.0 229.1L221.1 229.1L232.1 229.1L243.2 229.1L254.3 229.1" fill="none" stroke="#3858aa" stroke-width="1.45" stroke-linejoin="round"/>
<path d="M32.8 211.6L33.9 216.8L35.0 221.2L36.1 225.1L37.2 228.5L38.3 231.8L39.4 234.9L40.6 238.2L41.7 241.3L42.8 244.1L43.9 246.2L45.0 247.6L46.1 248.3L47.2 248.6L48.3 248.8L49.4 248.9L50.5 248.7L51.6 248.2L52.7 247.6L53.8 246.7L55.0 245.7L56.1 244.5L57.2 243.1L58.3 241.6L59.4 240.0L60.5 238.2L61.6 236.4L62.7 234.4L63.8 232.5L64.9 230.6L66.0 228.8L67.1 227.0L68.2 225.4L69.3 224.0L70.5 222.8L71.6 221.7L72.7 220.9L73.8 220.2L74.9 219.6L76.0 219.1L77.1 218.6L78.2 218.2L79.3 217.9L80.4 217.6L81.5 217.3L82.6 217.1L83.7 217.0L84.9 216.9L86.0 216.9L87.1 216.9L88.2 217.0L89.3 217.3L90.4 217.5L91.5 217.9L92.6 218.3L93.7 218.9L94.8 219.5L95.9 220.1L97.0 220.8L98.1 221.6L99.2 222.3L100.4 223.0L101.5 223.6L102.6 224.2L103.7 224.8L104.8 225.2L105.9 225.7L107.0 226.1L108.1 226.4L109.2 226.7L110.3 227.0L111.4 227.2L112.5 227.4L113.6 227.5L114.8 227.6L115.9 227.7L117.0 227.8L118.1 227.8L119.2 227.8L120.3 227.8L121.4 227.8L122.5 227.8L123.6 227.8L124.7 227.8L125.8 227.8L126.9 227.7L128.0 227.7L129.2 227.7L130.3 227.6L131.4 227.6L132.5 227.6L133.6 227.5L134.7 227.5L135.8 227.5L136.9 227.4L138.0 227.4L139.1 227.4L140.2 227.4L141.3 227.4L142.4 227.3L143.6 227.3L144.7 227.3L145.8 227.3L146.9 227.3L148.0 227.3L149.1 227.3L150.2 227.3L151.3 227.3L152.4 227.4L153.5 227.4L154.6 227.4L155.7 227.4L156.8 227.4L157.9 227.4L159.1 227.4L160.2 227.4L161.3 227.4L162.4 227.4L163.5 227.4L164.6 227.4L165.7 227.4L166.8 227.4L167.9 227.4L169.0 227.4L170.1 227.4L171.2 227.4L172.3 227.4L173.5 227.4L174.6 227.4L175.7 227.4L176.8 227.4L177.9 227.4L179.0 227.4L180.1 227.4L181.2 227.4L182.3 227.4L183.4 227.4L184.5 227.4L185.6 227.4L186.7 227.4L187.8 227.4L198.9 227.4L210.0 227.4L221.1 227.4L232.1 227.4L243.2 227.4L254.3 227.4" fill="none" stroke="#6cbf4c" stroke-width="1.35" stroke-linejoin="round"/>
<path d="M32.8 211.6L33.9 216.8L35.0 221.2L36.1 225.1L37.2 228.5L38.3 231.7L39.4 234.9L40.6 238.2L41.7 241.4L42.8 244.1L43.9 245.9L45.0 247.1L46.1 247.6L47.2 247.9L48.3 248.0L49.4 247.9L50.5 247.5L51.6 246.6L52.7 245.5L53.8 244.1L55.0 242.7L56.1 241.1L57.2 239.5L58.3 237.8L59.4 236.1L60.5 234.3L61.6 232.5L62.7 230.6L63.8 228.8L64.9 227.1L66.0 225.4L67.1 223.8L68.2 222.3L69.3 221.0L70.5 219.8L71.6 218.7L72.7 217.7L73.8 216.9L74.9 216.2L76.0 215.5L77.1 215.0L78.2 214.5L79.3 214.1L80.4 213.9L81.5 213.7L82.6 213.7L83.7 213.7L84.9 213.9L86.0 214.1L87.1 214.4L88.2 214.7L89.3 215.1L90.4 215.6L91.5 216.2L92.6 216.8L93.7 217.5L94.8 218.3L95.9 219.1L97.0 219.9L98.1 220.8L99.2 221.6L100.4 222.4L101.5 223.1L102.6 223.8L103.7 224.4L104.8 224.9L105.9 225.4L107.0 225.9L108.1 226.2L109.2 226.6L110.3 226.8L111.4 227.0L112.5 227.2L113.6 227.3L114.8 227.3L115.9 227.3L117.0 227.3L118.1 227.2L119.2 227.2L120.3 227.1L121.4 226.9L122.5 226.8L123.6 226.7L124.7 226.6L125.8 226.4L126.9 226.3L128.0 226.2L129.2 226.1L130.3 226.0L131.4 225.9L132.5 225.8L133.6 225.8L134.7 225.7L135.8 225.6L136.9 225.6L138.0 225.5L139.1 225.5L140.2 225.4L141.3 225.4L142.4 225.4L143.6 225.3L144.7 225.3L145.8 225.3L146.9 225.3L148.0 225.3L149.1 225.3L150.2 225.3L151.3 225.3L152.4 225.3L153.5 225.3L154.6 225.3L155.7 225.3L156.8 225.3L157.9 225.3L159.1 225.3L160.2 225.3L161.3 225.3L162.4 225.3L163.5 225.3L164.6 225.3L165.7 225.3L166.8 225.3L167.9 225.3L169.0 225.3L170.1 225.3L171.2 225.3L172.3 225.3L173.5 225.3L174.6 225.3L175.7 225.3L176.8 225.3L177.9 225.3L179.0 225.3L180.1 225.3L181.2 225.3L182.3 225.3L183.4 225.3L184.5 225.3L185.6 225.3L186.7 225.3L187.8 225.3L198.9 225.3L210.0 225.3L221.1 225.3L232.1 225.3L243.2 225.3L254.3 225.3" fill="none" stroke="#f07a3c" stroke-width="1.4" stroke-linejoin="round"/>
<path d="M32.8 211.6L33.9 216.8L35.0 221.2L36.1 225.1L37.2 228.5L38.3 231.7L39.4 234.9L40.6 238.3L41.7 241.4L42.8 244.0L43.9 245.8L45.0 246.8L46.1 247.3L47.2 247.5L48.3 247.6L49.4 247.5L50.5 247.0L51.6 246.0L52.7 244.6L53.8 243.0L55.0 241.4L56.1 239.7L57.2 237.9L58.3 236.2L59.4 234.4L60.5 232.6L61.6 230.8L62.7 229.0L63.8 227.3L64.9 225.6L66.0 224.0L67.1 222.5L68.2 221.0L69.3 219.7L70.5 218.5L71.6 217.4L72.7 216.4L73.8 215.5L74.9 214.7L76.0 214.0L77.1 213.4L78.2 212.9L79.3 212.5L80.4 212.3L81.5 212.1L82.6 212.2L83.7 212.3L84.9 212.6L86.0 212.9L87.1 213.3L88.2 213.7L89.3 214.2L90.4 214.8L91.5 215.4L92.6 216.1L93.7 216.9L94.8 217.8L95.9 218.6L97.0 219.5L98.1 220.4L99.2 221.3L100.4 222.1L101.5 222.9L102.6 223.6L103.7 224.2L104.8 224.8L105.9 225.3L107.0 225.8L108.1 226.1L109.2 226.5L110.3 226.7L111.4 226.9L112.5 227.1L113.6 227.2L114.8 227.2L115.9 227.2L117.0 227.1L118.1 227.0L119.2 226.9L120.3 226.7L121.4 226.5L122.5 226.4L123.6 226.2L124.7 226.0L125.8 225.9L126.9 225.7L128.0 225.6L129.2 225.4L130.3 225.3L131.4 225.2L132.5 225.1L133.6 225.0L134.7 224.9L135.8 224.9L136.9 224.8L138.0 224.7L139.1 224.7L140.2 224.6L141.3 224.6L142.4 224.5L143.6 224.5L144.7 224.5L145.8 224.4L146.9 224.4L148.0 224.4L149.1 224.4L150.2 224.4L151.3 224.4L152.4 224.4L153.5 224.3L154.6 224.3L155.7 224.3L156.8 224.3L157.9 224.3L159.1 224.3L160.2 224.3L161.3 224.3L162.4 224.3L163.5 224.3L164.6 224.3L165.7 224.3L166.8 224.3L167.9 224.3L169.0 224.3L170.1 224.3L171.2 224.3L172.3 224.3L173.5 224.3L174.6 224.3L175.7 224.3L176.8 224.3L177.9 224.3L179.0 224.3L180.1 224.3L181.2 224.3L182.3 224.3L183.4 224.3L184.5 224.3L185.6 224.3L186.7 224.3L187.8 224.3L198.9 224.3L210.0 224.3L221.1 224.3L232.1 224.3L243.2 224.3L254.3 224.3" fill="none" stroke="#f2200c" stroke-width="1.65" stroke-linejoin="round"/>
<path d="M32.8 211.6L33.9 216.7L35.0 221.2L36.1 225.1L37.2 228.7L38.3 231.9L39.4 235.0L40.6 238.0L41.7 241.0L42.8 244.3L43.9 247.7L45.0 251.2L46.1 254.6L47.2 257.7L48.3 260.4L49.4 262.9L50.5 265.0L51.6 266.7L52.7 267.9L53.8 268.6L55.0 269.0L56.1 269.3L57.2 269.3L58.3 269.2L59.4 268.7L60.5 267.9L61.6 266.7L62.7 265.2L63.8 263.4L64.9 261.6L66.0 259.9L67.1 258.3L68.2 256.9L69.3 255.5L70.5 254.2L71.6 253.0L72.7 251.7L73.8 250.5L74.9 249.3L76.0 248.0L77.1 246.6L78.2 245.2L79.3 243.6L80.4 242.0L81.5 240.3L82.6 238.6L83.7 236.9L84.9 235.1L86.0 233.4L87.1 231.7L88.2 230.0L89.3 228.3L90.4 226.8L91.5 225.3L92.6 223.9L93.7 222.6L94.8 221.4L95.9 220.2L97.0 219.2L98.1 218.2L99.2 217.3L100.4 216.5L101.5 215.7L102.6 214.9L103.7 214.2L104.8 213.6L105.9 213.0L107.0 212.4L108.1 211.9L109.2 211.5L110.3 211.1L111.4 210.9L112.5 210.6L113.6 210.5L114.8 210.4L115.9 210.5L117.0 210.6L118.1 210.8L119.2 211.0L120.3 211.4L121.4 211.7L122.5 212.2L123.6 212.7L124.7 213.2L125.8 213.8L126.9 214.3L128.0 215.0L129.2 215.6L130.3 216.2L131.4 216.8L132.5 217.4L133.6 218.1L134.7 218.7L135.8 219.3L136.9 219.8L138.0 220.4L139.1 220.9L140.2 221.4L141.3 221.9L142.4 222.4L143.6 222.8L144.7 223.1L145.8 223.5L146.9 223.8L148.0 224.0L149.1 224.2L150.2 224.4L151.3 224.6L152.4 224.7L153.5 224.9L154.6 224.9L155.7 225.0L156.8 225.1L157.9 225.1L159.1 225.1L160.2 225.1L161.3 225.1L162.4 225.1L163.5 225.1L164.6 225.1L165.7 225.0L166.8 225.0L167.9 225.0L169.0 224.9L170.1 224.9L171.2 224.8L172.3 224.8L173.5 224.7L174.6 224.7L175.7 224.7L176.8 224.6L177.9 224.6L179.0 224.6L180.1 224.5L181.2 224.5L182.3 224.5L183.4 224.5L184.5 224.5L185.6 224.5L186.7 224.5L187.8 224.5L198.9 224.5L210.0 224.5L221.1 224.5L232.1 224.5L243.2 224.5L254.3 224.5" fill="none" stroke="#1e1e1e" stroke-width="1.1" stroke-linejoin="round"/>
<path d="M32.8 211.6L33.9 215.9L35.0 218.9L36.1 220.8L37.2 221.4L38.3 221.1L39.4 220.0L40.6 218.3L41.7 216.3L42.8 214.3L43.9 212.3L45.0 210.3L46.1 208.4L47.2 206.5L48.3 204.8L49.4 203.3L50.5 201.8L51.6 200.6L52.7 199.4L53.8 198.4L55.0 197.5L56.1 196.6L57.2 196.0L58.3 195.4L59.4 194.9L60.5 194.7L61.6 194.5L62.7 194.6L63.8 194.7L64.9 195.1L66.0 195.6L67.1 196.2L68.2 197.0L69.3 197.9L70.5 198.9L71.6 200.1L72.7 201.4L73.8 202.8L74.9 204.4L76.0 206.1L77.1 207.9L78.2 209.6L79.3 211.3L80.4 212.8L81.5 214.0L82.6 214.9L83.7 215.6L84.9 216.0L86.0 216.2L87.1 216.2L88.2 216.0L89.3 215.7L90.4 215.3L91.5 214.7L92.6 214.2L93.7 213.6L94.8 213.0L95.9 212.4L97.0 211.9L98.1 211.5L99.2 211.2L100.4 211.0L101.5 211.0L102.6 211.2L103.7 211.4L104.8 211.8L105.9 212.1L107.0 212.5L108.1 212.9L109.2 213.2L110.3 213.4L111.4 213.6L112.5 213.7L113.6 213.8L114.8 213.8L115.9 213.8L117.0 213.8L118.1 213.8L119.2 213.7L120.3 213.6L121.4 213.6L122.5 213.5L123.6 213.4L124.7 213.4L125.8 213.3L126.9 213.2L128.0 213.2L129.2 213.2L130.3 213.2L131.4 213.1L132.5 213.1L133.6 213.1L134.7 213.2L135.8 213.2L136.9 213.2L138.0 213.2L139.1 213.2L140.2 213.2L141.3 213.3L142.4 213.3L143.6 213.3L144.7 213.3L145.8 213.3L146.9 213.3L148.0 213.3L149.1 213.3L150.2 213.3L151.3 213.3L152.4 213.3L153.5 213.3L154.6 213.3L155.7 213.3L156.8 213.3L157.9 213.3L159.1 213.3L160.2 213.3L161.3 213.3L162.4 213.3L163.5 213.3L164.6 213.3L165.7 213.3L166.8 213.3L167.9 213.3L169.0 213.3L170.1 213.3L171.2 213.3L172.3 213.3L173.5 213.3L174.6 213.3L175.7 213.3L176.8 213.3L177.9 213.3L179.0 213.3L180.1 213.3L181.2 213.3L182.3 213.3L183.4 213.3L184.5 213.3L185.6 213.3L186.7 213.3L187.8 213.3L198.9 213.3L210.0 213.3L221.1 213.3L232.1 213.3L243.2 213.3L254.3 213.3" fill="none" stroke="#8a8a8a" stroke-width="1.15" stroke-linejoin="round"/>
<rect x="32.80" y="174.90" width="221.50" height="115.10" fill="none" stroke="#4a4a4a" stroke-width="1"/>
<line x1="32.80" y1="290.00" x2="32.80" y2="287.80" stroke="#4a4a4a" stroke-width="0.8"/>
<line x1="32.80" y1="174.90" x2="32.80" y2="177.10" stroke="#4a4a4a" stroke-width="0.8"/>
<text class="tk" x="32.20" y="299.90" text-anchor="middle" textLength="3.89" lengthAdjust="spacingAndGlyphs">0</text>
<line x1="77.10" y1="290.00" x2="77.10" y2="287.80" stroke="#4a4a4a" stroke-width="0.8"/>
<line x1="77.10" y1="174.90" x2="77.10" y2="177.10" stroke="#4a4a4a" stroke-width="0.8"/>
<text class="tk" x="76.50" y="299.90" text-anchor="middle" textLength="9.73" lengthAdjust="spacingAndGlyphs">0.2</text>
<line x1="121.40" y1="290.00" x2="121.40" y2="287.80" stroke="#4a4a4a" stroke-width="0.8"/>
<line x1="121.40" y1="174.90" x2="121.40" y2="177.10" stroke="#4a4a4a" stroke-width="0.8"/>
<text class="tk" x="120.80" y="299.90" text-anchor="middle" textLength="9.73" lengthAdjust="spacingAndGlyphs">0.4</text>
<line x1="165.70" y1="290.00" x2="165.70" y2="287.80" stroke="#4a4a4a" stroke-width="0.8"/>
<line x1="165.70" y1="174.90" x2="165.70" y2="177.10" stroke="#4a4a4a" stroke-width="0.8"/>
<text class="tk" x="165.10" y="299.90" text-anchor="middle" textLength="9.73" lengthAdjust="spacingAndGlyphs">0.6</text>
<line x1="210.00" y1="290.00" x2="210.00" y2="287.80" stroke="#4a4a4a" stroke-width="0.8"/>
<line x1="210.00" y1="174.90" x2="210.00" y2="177.10" stroke="#4a4a4a" stroke-width="0.8"/>
<text class="tk" x="209.40" y="299.90" text-anchor="middle" textLength="9.73" lengthAdjust="spacingAndGlyphs">0.8</text>
<line x1="254.30" y1="290.00" x2="254.30" y2="287.80" stroke="#4a4a4a" stroke-width="0.8"/>
<line x1="254.30" y1="174.90" x2="254.30" y2="177.10" stroke="#4a4a4a" stroke-width="0.8"/>
<text class="tk" x="253.70" y="299.90" text-anchor="middle" textLength="3.89" lengthAdjust="spacingAndGlyphs">1</text>
<line x1="32.80" y1="290.00" x2="35.00" y2="290.00" stroke="#4a4a4a" stroke-width="0.8"/>
<line x1="254.30" y1="290.00" x2="252.10" y2="290.00" stroke="#4a4a4a" stroke-width="0.8"/>
<text class="tk" x="28.50" y="292.70" text-anchor="end" textLength="7.78" lengthAdjust="spacingAndGlyphs">50</text>
<line x1="32.80" y1="266.98" x2="35.00" y2="266.98" stroke="#4a4a4a" stroke-width="0.8"/>
<line x1="254.30" y1="266.98" x2="252.10" y2="266.98" stroke="#4a4a4a" stroke-width="0.8"/>
<text class="tk" x="28.50" y="269.68" text-anchor="end" textLength="11.68" lengthAdjust="spacingAndGlyphs">100</text>
<line x1="32.80" y1="243.96" x2="35.00" y2="243.96" stroke="#4a4a4a" stroke-width="0.8"/>
<line x1="254.30" y1="243.96" x2="252.10" y2="243.96" stroke="#4a4a4a" stroke-width="0.8"/>
<text class="tk" x="28.50" y="246.66" text-anchor="end" textLength="11.68" lengthAdjust="spacingAndGlyphs">150</text>
<line x1="32.80" y1="220.94" x2="35.00" y2="220.94" stroke="#4a4a4a" stroke-width="0.8"/>
<line x1="254.30" y1="220.94" x2="252.10" y2="220.94" stroke="#4a4a4a" stroke-width="0.8"/>
<text class="tk" x="28.50" y="223.64" text-anchor="end" textLength="11.68" lengthAdjust="spacingAndGlyphs">200</text>
<line x1="32.80" y1="197.92" x2="35.00" y2="197.92" stroke="#4a4a4a" stroke-width="0.8"/>
<line x1="254.30" y1="197.92" x2="252.10" y2="197.92" stroke="#4a4a4a" stroke-width="0.8"/>
<text class="tk" x="28.50" y="200.62" text-anchor="end" textLength="11.68" lengthAdjust="spacingAndGlyphs">250</text>
<line x1="32.80" y1="174.90" x2="35.00" y2="174.90" stroke="#4a4a4a" stroke-width="0.8"/>
<line x1="254.30" y1="174.90" x2="252.10" y2="174.90" stroke="#4a4a4a" stroke-width="0.8"/>
<text class="tk" x="28.50" y="177.60" text-anchor="end" textLength="11.68" lengthAdjust="spacingAndGlyphs">300</text>
<text class="bl" x="143.15" y="170.30" text-anchor="middle">(c)</text>
<text class="bl" x="143.85" y="311.70" text-anchor="middle" transform="translate(143.85 0) scale(0.96 1) translate(-143.85 0)">Time&#160;&#160;<tspan font-style="italic">t</tspan> (s)</text>
<text class="bl" transform="translate(9.70 232.45) rotate(-90) scale(0.95 1)" text-anchor="middle">COM Displacement&#160;&#160;<tspan font-style="italic">d</tspan><tspan font-style="italic" font-size="7px" dy="2.6">COM,y</tspan><tspan dy="-2.6"> (mm)</tspan></text>
<rect x="42.80" y="273.60" width="201.50" height="10.70" fill="#fff" stroke="#5a5a5a" stroke-width="0.9"/>
<line x1="45.00" y1="278.95" x2="55.40" y2="278.95" stroke="#3858aa" stroke-width="1.45"/>
<text class="lg" x="56.70" y="281.25" textLength="14.6" lengthAdjust="spacingAndGlyphs">0.0A</text>
<line x1="75.20" y1="278.95" x2="85.60" y2="278.95" stroke="#6cbf4c" stroke-width="1.35"/>
<text class="lg" x="87.40" y="281.25" textLength="13.6" lengthAdjust="spacingAndGlyphs">1.0A</text>
<line x1="105.70" y1="278.95" x2="116.10" y2="278.95" stroke="#f07a3c" stroke-width="1.4"/>
<text class="lg" x="117.40" y="281.25" textLength="14.8" lengthAdjust="spacingAndGlyphs">2.0A</text>
<line x1="136.30" y1="278.95" x2="146.70" y2="278.95" stroke="#f2200c" stroke-width="1.65"/>
<text class="lg" x="148.00" y="281.25" textLength="14.4" lengthAdjust="spacingAndGlyphs">3.0A</text>
<line x1="166.90" y1="278.95" x2="177.30" y2="278.95" stroke="#1e1e1e" stroke-width="1.2"/>
<text class="lg" x="178.40" y="281.25" textLength="32.4" lengthAdjust="spacingAndGlyphs">No Damper</text>
<line x1="214.80" y1="278.95" x2="225.20" y2="278.95" stroke="#8a8a8a" stroke-width="1.2"/>
<text class="lg" x="226.00" y="281.25" textLength="15.2" lengthAdjust="spacingAndGlyphs">Rigid</text>
</g>
<g>
<line x1="324.80" y1="268.45" x2="544.50" y2="268.45" stroke="#b0b0b0" stroke-width="1" stroke-dasharray="5.1 3.4"/>
<path d="M324.5 212.3L325.6 217.5L326.7 222.2L327.8 226.6L328.9 230.7L330.0 234.7L331.1 238.7L332.2 242.6L333.3 246.1L334.4 249.0L335.6 251.2L336.7 252.9L337.8 254.2L338.9 255.2L340.0 255.9L341.1 256.2L342.2 256.3L343.3 256.2L344.4 255.8L345.5 255.3L346.6 254.5L347.7 253.6L348.8 252.5L349.9 251.3L351.0 250.0L352.1 248.5L353.2 246.9L354.3 245.3L355.4 243.6L356.5 241.9L357.6 240.2L358.8 238.4L359.9 236.7L361.0 235.0L362.1 233.4L363.2 231.7L364.3 230.2L365.4 228.7L366.5 227.3L367.6 225.9L368.7 224.7L369.8 223.5L370.9 222.5L372.0 221.6L373.1 220.9L374.2 220.3L375.3 219.9L376.4 219.7L377.5 219.7L378.6 219.8L379.8 220.1L380.9 220.5L382.0 221.0L383.1 221.5L384.2 222.1L385.3 222.6L386.4 223.1L387.5 223.5L388.6 223.9L389.7 224.3L390.8 224.7L391.9 225.1L393.0 225.5L394.1 225.9L395.2 226.5L396.3 227.0L397.4 227.7L398.5 228.3L399.6 229.0L400.7 229.6L401.9 230.2L403.0 230.7L404.1 231.1L405.2 231.4L406.3 231.6L407.4 231.6L408.5 231.6L409.6 231.5L410.7 231.4L411.8 231.3L412.9 231.2L414.0 231.1L415.1 231.0L416.2 230.9L417.3 230.9L418.4 230.9L419.5 230.9L420.6 230.9L421.7 230.9L422.8 230.9L423.9 230.9L425.1 230.9L426.2 230.9L427.3 230.9L428.4 230.9L429.5 230.9L430.6 230.9L431.7 230.9L432.8 230.9L433.9 230.9L435.0 230.9L436.1 230.9L437.2 230.9L438.3 230.9L439.4 230.9L440.5 230.9L441.6 230.9L442.7 230.9L443.8 230.9L444.9 230.9L446.1 230.9L447.2 230.9L448.3 230.9L449.4 230.9L450.5 230.9L451.6 230.9L452.7 230.9L453.8 230.9L454.9 230.9L456.0 230.9L457.1 230.9L458.2 230.9L459.3 230.9L460.4 230.9L461.5 230.9L462.6 230.9L463.7 230.9L464.8 230.9L465.9 230.9L467.0 230.9L468.1 230.9L469.3 230.9L470.4 230.9L471.5 230.9L472.6 230.9L473.7 230.9L474.8 230.9L475.9 230.9L477.0 230.9L478.1 230.9L479.2 230.9L490.2 230.9L501.3 230.9L512.4 230.9L523.4 230.9L534.5 230.9L545.5 230.9" fill="none" stroke="#3858aa" stroke-width="1.45" stroke-linejoin="round"/>
<path d="M324.5 212.3L325.6 217.5L326.7 222.2L327.8 226.6L328.9 230.7L330.0 234.7L331.1 238.7L332.2 242.6L333.3 246.1L334.4 248.8L335.6 250.7L336.7 252.1L337.8 253.1L338.9 253.7L340.0 253.9L341.1 253.8L342.2 253.5L343.3 253.0L344.4 252.2L345.5 251.4L346.6 250.3L347.7 249.1L348.8 247.8L349.9 246.4L351.0 244.9L352.1 243.3L353.2 241.7L354.3 240.0L355.4 238.3L356.5 236.6L357.6 234.9L358.8 233.2L359.9 231.6L361.0 230.0L362.1 228.4L363.2 226.9L364.3 225.5L365.4 224.1L366.5 222.8L367.6 221.6L368.7 220.5L369.8 219.5L370.9 218.5L372.0 217.8L373.1 217.1L374.2 216.6L375.3 216.3L376.4 216.1L377.5 216.2L378.6 216.3L379.8 216.6L380.9 217.0L382.0 217.5L383.1 218.1L384.2 218.6L385.3 219.2L386.4 219.8L387.5 220.4L388.6 221.0L389.7 221.7L390.8 222.3L391.9 223.0L393.0 223.7L394.1 224.4L395.2 225.2L396.3 225.9L397.4 226.6L398.5 227.3L399.6 228.0L400.7 228.6L401.9 229.2L403.0 229.6L404.1 230.0L405.2 230.2L406.3 230.4L407.4 230.4L408.5 230.4L409.6 230.3L410.7 230.2L411.8 230.1L412.9 229.9L414.0 229.8L415.1 229.6L416.2 229.5L417.3 229.4L418.4 229.3L419.5 229.1L420.6 229.0L421.7 228.9L422.8 228.9L423.9 228.8L425.1 228.7L426.2 228.6L427.3 228.6L428.4 228.5L429.5 228.5L430.6 228.5L431.7 228.4L432.8 228.4L433.9 228.4L435.0 228.3L436.1 228.3L437.2 228.3L438.3 228.3L439.4 228.3L440.5 228.3L441.6 228.3L442.7 228.3L443.8 228.3L444.9 228.3L446.1 228.3L447.2 228.3L448.3 228.3L449.4 228.3L450.5 228.3L451.6 228.3L452.7 228.3L453.8 228.3L454.9 228.3L456.0 228.3L457.1 228.3L458.2 228.3L459.3 228.3L460.4 228.3L461.5 228.3L462.6 228.3L463.7 228.3L464.8 228.3L465.9 228.3L467.0 228.3L468.1 228.3L469.3 228.3L470.4 228.3L471.5 228.3L472.6 228.3L473.7 228.3L474.8 228.3L475.9 228.3L477.0 228.3L478.1 228.3L479.2 228.3L490.2 228.3L501.3 228.3L512.4 228.3L523.4 228.3L534.5 228.3L545.5 228.3" fill="none" stroke="#6cbf4c" stroke-width="1.35" stroke-linejoin="round"/>
<path d="M324.5 212.3L325.6 217.5L326.7 222.2L327.8 226.6L328.9 230.7L330.0 234.7L331.1 238.7L332.2 242.7L333.3 246.2L334.4 248.8L335.6 250.6L336.7 251.9L337.8 252.8L338.9 253.3L340.0 253.3L341.1 253.1L342.2 252.6L343.3 251.8L344.4 250.8L345.5 249.6L346.6 248.3L347.7 246.8L348.8 245.3L349.9 243.6L351.0 241.9L352.1 240.2L353.2 238.4L354.3 236.7L355.4 234.9L356.5 233.1L357.6 231.4L358.8 229.7L359.9 228.0L361.0 226.3L362.1 224.7L363.2 223.1L364.3 221.6L365.4 220.2L366.5 218.8L367.6 217.5L368.7 216.3L369.8 215.2L370.9 214.2L372.0 213.4L373.1 212.7L374.2 212.3L375.3 212.1L376.4 212.2L377.5 212.5L378.6 212.9L379.8 213.5L380.9 214.2L382.0 214.9L383.1 215.7L384.2 216.5L385.3 217.3L386.4 218.1L387.5 219.0L388.6 219.8L389.7 220.6L390.8 221.4L391.9 222.2L393.0 223.1L394.1 223.9L395.2 224.7L396.3 225.5L397.4 226.2L398.5 227.0L399.6 227.7L400.7 228.3L401.9 228.8L403.0 229.3L404.1 229.7L405.2 230.0L406.3 230.2L407.4 230.4L408.5 230.4L409.6 230.4L410.7 230.4L411.8 230.3L412.9 230.1L414.0 230.0L415.1 229.8L416.2 229.6L417.3 229.4L418.4 229.2L419.5 229.0L420.6 228.8L421.7 228.6L422.8 228.4L423.9 228.2L425.1 228.0L426.2 227.8L427.3 227.7L428.4 227.5L429.5 227.4L430.6 227.3L431.7 227.2L432.8 227.1L433.9 227.1L435.0 227.0L436.1 227.0L437.2 227.0L438.3 227.0L439.4 227.0L440.5 227.0L441.6 227.0L442.7 227.0L443.8 227.0L444.9 227.0L446.1 227.0L447.2 227.0L448.3 227.0L449.4 227.0L450.5 227.0L451.6 227.0L452.7 227.0L453.8 227.0L454.9 227.0L456.0 227.0L457.1 227.0L458.2 227.0L459.3 227.0L460.4 227.0L461.5 227.0L462.6 227.0L463.7 227.0L464.8 227.0L465.9 227.0L467.0 227.0L468.1 227.0L469.3 227.0L470.4 227.0L471.5 227.0L472.6 227.0L473.7 227.0L474.8 227.0L475.9 227.0L477.0 227.0L478.1 227.0L479.2 227.0L490.2 227.0L501.3 227.0L512.4 227.0L523.4 227.0L534.5 227.0L545.5 227.0" fill="none" stroke="#f07a3c" stroke-width="1.4" stroke-linejoin="round"/>
<path d="M324.5 212.3L325.6 217.5L326.7 222.2L327.8 226.5L328.9 230.7L330.0 234.7L331.1 238.7L332.2 242.7L333.3 246.2L334.4 248.8L335.6 250.5L336.7 251.8L337.8 252.7L338.9 253.1L340.0 253.1L341.1 252.8L342.2 252.2L343.3 251.3L344.4 250.2L345.5 248.9L346.6 247.4L347.7 245.8L348.8 244.2L349.9 242.4L351.0 240.6L352.1 238.8L353.2 237.1L354.3 235.3L355.4 233.5L356.5 231.7L357.6 229.9L358.8 228.2L359.9 226.4L361.0 224.7L362.1 223.1L363.2 221.5L364.3 220.0L365.4 218.5L366.5 217.1L367.6 215.7L368.7 214.5L369.8 213.3L370.9 212.3L372.0 211.5L373.1 210.8L374.2 210.4L375.3 210.3L376.4 210.5L377.5 210.9L378.6 211.5L379.8 212.2L380.9 213.0L382.0 213.8L383.1 214.7L384.2 215.6L385.3 216.5L386.4 217.4L387.5 218.3L388.6 219.3L389.7 220.1L390.8 221.0L391.9 221.9L393.0 222.8L394.1 223.6L395.2 224.5L396.3 225.3L397.4 226.1L398.5 226.8L399.6 227.5L400.7 228.1L401.9 228.7L403.0 229.2L404.1 229.6L405.2 229.9L406.3 230.2L407.4 230.3L408.5 230.4L409.6 230.4L410.7 230.4L411.8 230.3L412.9 230.2L414.0 230.1L415.1 229.9L416.2 229.7L417.3 229.5L418.4 229.2L419.5 229.0L420.6 228.7L421.7 228.5L422.8 228.2L423.9 228.0L425.1 227.7L426.2 227.5L427.3 227.3L428.4 227.1L429.5 226.9L430.6 226.8L431.7 226.7L432.8 226.6L433.9 226.5L435.0 226.5L436.1 226.4L437.2 226.4L438.3 226.4L439.4 226.4L440.5 226.4L441.6 226.4L442.7 226.4L443.8 226.4L444.9 226.4L446.1 226.5L447.2 226.5L448.3 226.5L449.4 226.5L450.5 226.5L451.6 226.5L452.7 226.5L453.8 226.5L454.9 226.5L456.0 226.5L457.1 226.5L458.2 226.5L459.3 226.5L460.4 226.5L461.5 226.5L462.6 226.5L463.7 226.5L464.8 226.5L465.9 226.5L467.0 226.5L468.1 226.5L469.3 226.5L470.4 226.5L471.5 226.5L472.6 226.5L473.7 226.5L474.8 226.5L475.9 226.5L477.0 226.5L478.1 226.5L479.2 226.5L490.2 226.5L501.3 226.5L512.4 226.5L523.4 226.5L534.5 226.5L545.5 226.5" fill="none" stroke="#f2200c" stroke-width="1.65" stroke-linejoin="round"/>
<path d="M324.5 212.3L325.6 217.3L326.7 222.1L327.8 226.7L328.9 231.0L330.0 235.0L331.1 238.4L332.2 241.7L333.3 245.5L334.4 250.4L335.6 256.0L336.7 260.9L337.8 264.2L338.9 266.1L340.0 267.3L341.1 268.3L342.2 269.2L343.3 269.8L344.4 269.7L345.5 269.2L346.6 268.4L347.7 267.3L348.8 266.0L349.9 264.6L351.0 263.1L352.1 261.6L353.2 260.1L354.3 258.5L355.4 257.0L356.5 255.5L357.6 254.0L358.8 252.6L359.9 251.1L361.0 249.6L362.1 248.1L363.2 246.7L364.3 245.2L365.4 243.7L366.5 242.2L367.6 240.7L368.7 239.1L369.8 237.6L370.9 236.0L372.0 234.5L373.1 232.9L374.2 231.3L375.3 229.7L376.4 228.1L377.5 226.5L378.6 224.9L379.8 223.3L380.9 221.8L382.0 220.4L383.1 219.0L384.2 217.7L385.3 216.5L386.4 215.5L387.5 214.5L388.6 213.6L389.7 212.9L390.8 212.2L391.9 211.6L393.0 211.1L394.1 210.7L395.2 210.5L396.3 210.4L397.4 210.5L398.5 210.7L399.6 211.0L400.7 211.4L401.9 211.9L403.0 212.5L404.1 213.1L405.2 213.8L406.3 214.4L407.4 215.1L408.5 215.8L409.6 216.5L410.7 217.3L411.8 218.0L412.9 218.6L414.0 219.3L415.1 219.9L416.2 220.6L417.3 221.2L418.4 221.7L419.5 222.3L420.6 222.8L421.7 223.2L422.8 223.7L423.9 224.1L425.1 224.4L426.2 224.8L427.3 225.1L428.4 225.4L429.5 225.6L430.6 225.8L431.7 226.0L432.8 226.1L433.9 226.2L435.0 226.3L436.1 226.4L437.2 226.5L438.3 226.5L439.4 226.5L440.5 226.5L441.6 226.5L442.7 226.5L443.8 226.5L444.9 226.5L446.1 226.5L447.2 226.5L448.3 226.4L449.4 226.4L450.5 226.4L451.6 226.4L452.7 226.4L453.8 226.4L454.9 226.4L456.0 226.4L457.1 226.4L458.2 226.4L459.3 226.4L460.4 226.5L461.5 226.5L462.6 226.5L463.7 226.5L464.8 226.5L465.9 226.5L467.0 226.5L468.1 226.5L469.3 226.5L470.4 226.5L471.5 226.5L472.6 226.5L473.7 226.5L474.8 226.5L475.9 226.5L477.0 226.5L478.1 226.5L479.2 226.5L490.2 226.5L501.3 226.5L512.4 226.5L523.4 226.5L534.5 226.5L545.5 226.5" fill="none" stroke="#1e1e1e" stroke-width="1.1" stroke-linejoin="round"/>
<path d="M324.5 212.4L325.6 216.6L326.7 219.8L327.8 221.8L328.9 222.4L330.0 221.8L331.1 220.2L332.2 217.9L333.3 215.4L334.4 213.0L335.6 210.7L336.7 208.4L337.8 206.4L338.9 204.4L340.0 202.5L341.1 200.8L342.2 199.1L343.3 197.6L344.4 196.2L345.5 194.9L346.6 193.8L347.7 192.7L348.8 191.9L349.9 191.1L351.0 190.5L352.1 190.0L353.2 189.6L354.3 189.4L355.4 189.4L356.5 189.5L357.6 189.8L358.8 190.2L359.9 190.8L361.0 191.5L362.1 192.4L363.2 193.4L364.3 194.6L365.4 195.9L366.5 197.3L367.6 198.7L368.7 200.2L369.8 201.8L370.9 203.4L372.0 204.9L373.1 206.5L374.2 208.0L375.3 209.4L376.4 210.8L377.5 212.1L378.6 213.2L379.8 214.3L380.9 215.3L382.0 216.1L383.1 216.8L384.2 217.3L385.3 217.4L386.4 217.3L387.5 217.1L388.6 216.8L389.7 216.4L390.8 216.1L391.9 215.7L393.0 215.4L394.1 215.0L395.2 214.7L396.3 214.5L397.4 214.3L398.5 214.1L399.6 213.9L400.7 213.8L401.9 213.7L403.0 213.6L404.1 213.6L405.2 213.5L406.3 213.5L407.4 213.4L408.5 213.4L409.6 213.4L410.7 213.3L411.8 213.3L412.9 213.3L414.0 213.3L415.1 213.3L416.2 213.3L417.3 213.3L418.4 213.3L419.5 213.3L420.6 213.3L421.7 213.3L422.8 213.3L423.9 213.3L425.1 213.3L426.2 213.3L427.3 213.3L428.4 213.3L429.5 213.3L430.6 213.3L431.7 213.3L432.8 213.3L433.9 213.3L435.0 213.3L436.1 213.3L437.2 213.3L438.3 213.3L439.4 213.3L440.5 213.3L441.6 213.3L442.7 213.3L443.8 213.3L444.9 213.3L446.1 213.3L447.2 213.3L448.3 213.3L449.4 213.3L450.5 213.3L451.6 213.3L452.7 213.3L453.8 213.3L454.9 213.3L456.0 213.3L457.1 213.3L458.2 213.3L459.3 213.3L460.4 213.3L461.5 213.3L462.6 213.3L463.7 213.3L464.8 213.3L465.9 213.3L467.0 213.3L468.1 213.3L469.3 213.3L470.4 213.3L471.5 213.3L472.6 213.3L473.7 213.3L474.8 213.3L475.9 213.3L477.0 213.3L478.1 213.3L479.2 213.3L490.2 213.3L501.3 213.3L512.4 213.3L523.4 213.3L534.5 213.3L545.5 213.3" fill="none" stroke="#8a8a8a" stroke-width="1.15" stroke-linejoin="round"/>
<rect x="324.50" y="174.90" width="221.00" height="115.10" fill="none" stroke="#4a4a4a" stroke-width="1"/>
<line x1="324.50" y1="290.00" x2="324.50" y2="287.80" stroke="#4a4a4a" stroke-width="0.8"/>
<line x1="324.50" y1="174.90" x2="324.50" y2="177.10" stroke="#4a4a4a" stroke-width="0.8"/>
<text class="tk" x="323.90" y="299.90" text-anchor="middle" textLength="3.89" lengthAdjust="spacingAndGlyphs">0</text>
<line x1="368.70" y1="290.00" x2="368.70" y2="287.80" stroke="#4a4a4a" stroke-width="0.8"/>
<line x1="368.70" y1="174.90" x2="368.70" y2="177.10" stroke="#4a4a4a" stroke-width="0.8"/>
<text class="tk" x="368.10" y="299.90" text-anchor="middle" textLength="9.73" lengthAdjust="spacingAndGlyphs">0.2</text>
<line x1="412.90" y1="290.00" x2="412.90" y2="287.80" stroke="#4a4a4a" stroke-width="0.8"/>
<line x1="412.90" y1="174.90" x2="412.90" y2="177.10" stroke="#4a4a4a" stroke-width="0.8"/>
<text class="tk" x="412.30" y="299.90" text-anchor="middle" textLength="9.73" lengthAdjust="spacingAndGlyphs">0.4</text>
<line x1="457.10" y1="290.00" x2="457.10" y2="287.80" stroke="#4a4a4a" stroke-width="0.8"/>
<line x1="457.10" y1="174.90" x2="457.10" y2="177.10" stroke="#4a4a4a" stroke-width="0.8"/>
<text class="tk" x="456.50" y="299.90" text-anchor="middle" textLength="9.73" lengthAdjust="spacingAndGlyphs">0.6</text>
<line x1="501.30" y1="290.00" x2="501.30" y2="287.80" stroke="#4a4a4a" stroke-width="0.8"/>
<line x1="501.30" y1="174.90" x2="501.30" y2="177.10" stroke="#4a4a4a" stroke-width="0.8"/>
<text class="tk" x="500.70" y="299.90" text-anchor="middle" textLength="9.73" lengthAdjust="spacingAndGlyphs">0.8</text>
<line x1="545.50" y1="290.00" x2="545.50" y2="287.80" stroke="#4a4a4a" stroke-width="0.8"/>
<line x1="545.50" y1="174.90" x2="545.50" y2="177.10" stroke="#4a4a4a" stroke-width="0.8"/>
<text class="tk" x="544.90" y="299.90" text-anchor="middle" textLength="3.89" lengthAdjust="spacingAndGlyphs">1</text>
<line x1="324.50" y1="290.00" x2="326.70" y2="290.00" stroke="#4a4a4a" stroke-width="0.8"/>
<line x1="545.50" y1="290.00" x2="543.30" y2="290.00" stroke="#4a4a4a" stroke-width="0.8"/>
<text class="tk" x="320.20" y="292.70" text-anchor="end" textLength="7.78" lengthAdjust="spacingAndGlyphs">50</text>
<line x1="324.50" y1="266.98" x2="326.70" y2="266.98" stroke="#4a4a4a" stroke-width="0.8"/>
<line x1="545.50" y1="266.98" x2="543.30" y2="266.98" stroke="#4a4a4a" stroke-width="0.8"/>
<text class="tk" x="320.20" y="269.68" text-anchor="end" textLength="11.68" lengthAdjust="spacingAndGlyphs">100</text>
<line x1="324.50" y1="243.96" x2="326.70" y2="243.96" stroke="#4a4a4a" stroke-width="0.8"/>
<line x1="545.50" y1="243.96" x2="543.30" y2="243.96" stroke="#4a4a4a" stroke-width="0.8"/>
<text class="tk" x="320.20" y="246.66" text-anchor="end" textLength="11.68" lengthAdjust="spacingAndGlyphs">150</text>
<line x1="324.50" y1="220.94" x2="326.70" y2="220.94" stroke="#4a4a4a" stroke-width="0.8"/>
<line x1="545.50" y1="220.94" x2="543.30" y2="220.94" stroke="#4a4a4a" stroke-width="0.8"/>
<text class="tk" x="320.20" y="223.64" text-anchor="end" textLength="11.68" lengthAdjust="spacingAndGlyphs">200</text>
<line x1="324.50" y1="197.92" x2="326.70" y2="197.92" stroke="#4a4a4a" stroke-width="0.8"/>
<line x1="545.50" y1="197.92" x2="543.30" y2="197.92" stroke="#4a4a4a" stroke-width="0.8"/>
<text class="tk" x="320.20" y="200.62" text-anchor="end" textLength="11.68" lengthAdjust="spacingAndGlyphs">250</text>
<line x1="324.50" y1="174.90" x2="326.70" y2="174.90" stroke="#4a4a4a" stroke-width="0.8"/>
<line x1="545.50" y1="174.90" x2="543.30" y2="174.90" stroke="#4a4a4a" stroke-width="0.8"/>
<text class="tk" x="320.20" y="177.60" text-anchor="end" textLength="11.68" lengthAdjust="spacingAndGlyphs">300</text>
<text class="bl" x="434.60" y="170.30" text-anchor="middle">(d)</text>
<text class="bl" x="435.30" y="311.70" text-anchor="middle" transform="translate(435.30 0) scale(0.96 1) translate(-435.30 0)">Time&#160;&#160;<tspan font-style="italic">t</tspan> (s)</text>
<text class="bl" transform="translate(301.40 232.45) rotate(-90) scale(0.95 1)" text-anchor="middle">COM Displacement&#160;&#160;<tspan font-style="italic">d</tspan><tspan font-style="italic" font-size="7px" dy="2.6">COM,y</tspan><tspan dy="-2.6"> (mm)</tspan></text>
<rect x="334.50" y="273.60" width="201.00" height="10.70" fill="#fff" stroke="#5a5a5a" stroke-width="0.9"/>
<line x1="336.70" y1="278.95" x2="347.10" y2="278.95" stroke="#3858aa" stroke-width="1.45"/>
<text class="lg" x="348.40" y="281.25" textLength="14.6" lengthAdjust="spacingAndGlyphs">0.0A</text>
<line x1="366.90" y1="278.95" x2="377.30" y2="278.95" stroke="#6cbf4c" stroke-width="1.35"/>
<text class="lg" x="379.10" y="281.25" textLength="13.6" lengthAdjust="spacingAndGlyphs">1.0A</text>
<line x1="397.40" y1="278.95" x2="407.80" y2="278.95" stroke="#f07a3c" stroke-width="1.4"/>
<text class="lg" x="409.10" y="281.25" textLength="14.8" lengthAdjust="spacingAndGlyphs">2.0A</text>
<line x1="428.00" y1="278.95" x2="438.40" y2="278.95" stroke="#f2200c" stroke-width="1.65"/>
<text class="lg" x="439.70" y="281.25" textLength="14.4" lengthAdjust="spacingAndGlyphs">3.0A</text>
<line x1="458.60" y1="278.95" x2="469.00" y2="278.95" stroke="#1e1e1e" stroke-width="1.2"/>
<text class="lg" x="470.10" y="281.25" textLength="32.4" lengthAdjust="spacingAndGlyphs">No Damper</text>
<line x1="506.50" y1="278.95" x2="516.90" y2="278.95" stroke="#8a8a8a" stroke-width="1.2"/>
<text class="lg" x="517.70" y="281.25" textLength="15.2" lengthAdjust="spacingAndGlyphs">Rigid</text>
</g>
<g>
<line x1="33.10" y1="428.65" x2="253.30" y2="428.65" stroke="#b0b0b0" stroke-width="1" stroke-dasharray="5.1 3.4"/>
<path d="M32.8 371.3L33.9 379.6L35.0 386.0L36.1 390.9L37.2 395.1L38.3 399.0L39.4 402.7L40.6 406.2L41.7 409.6L42.8 412.6L43.9 415.2L45.0 417.2L46.1 418.7L47.2 419.7L48.3 420.3L49.4 420.5L50.5 420.4L51.6 419.9L52.7 419.1L53.8 418.1L55.0 416.9L56.1 415.5L57.2 414.0L58.3 412.4L59.4 410.7L60.5 409.0L61.6 407.2L62.7 405.5L63.8 403.8L64.9 402.1L66.0 400.4L67.1 398.7L68.2 397.1L69.3 395.4L70.5 393.9L71.6 392.3L72.7 390.8L73.8 389.4L74.9 388.0L76.0 386.6L77.1 385.4L78.2 384.3L79.3 383.2L80.4 382.3L81.5 381.5L82.6 380.9L83.7 380.4L84.9 380.1L86.0 380.0L87.1 380.0L88.2 380.2L89.3 380.5L90.4 380.9L91.5 381.4L92.6 382.0L93.7 382.7L94.8 383.4L95.9 384.1L97.0 384.9L98.1 385.6L99.2 386.4L100.4 387.1L101.5 387.7L102.6 388.2L103.7 388.7L104.8 389.2L105.9 389.6L107.0 389.9L108.1 390.2L109.2 390.5L110.3 390.8L111.4 391.1L112.5 391.3L113.6 391.5L114.8 391.7L115.9 391.8L117.0 392.0L118.1 392.1L119.2 392.1L120.3 392.2L121.4 392.2L122.5 392.2L123.6 392.2L124.7 392.1L125.8 392.1L126.9 392.0L128.0 392.0L129.2 391.9L130.3 391.8L131.4 391.8L132.5 391.7L133.6 391.7L134.7 391.7L135.8 391.6L136.9 391.6L138.0 391.6L139.1 391.6L140.2 391.6L141.3 391.6L142.4 391.6L143.6 391.6L144.7 391.6L145.8 391.7L146.9 391.7L148.0 391.7L149.1 391.7L150.2 391.7L151.3 391.7L152.4 391.7L153.5 391.8L154.6 391.8L155.7 391.8L156.8 391.8L157.9 391.8L159.1 391.8L160.2 391.8L161.3 391.8L162.4 391.8L163.5 391.7L164.6 391.7L165.7 391.7L166.8 391.7L167.9 391.7L169.0 391.7L170.1 391.7L171.2 391.7L172.3 391.7L173.5 391.7L174.6 391.7L175.7 391.7L176.8 391.7L177.9 391.7L179.0 391.7L180.1 391.7L181.2 391.7L182.3 391.7L183.4 391.7L184.5 391.7L185.6 391.7L186.7 391.7L187.8 391.7L198.9 391.7L210.0 391.7L221.1 391.7L232.1 391.7L243.2 391.7L254.3 391.7" fill="none" stroke="#3858aa" stroke-width="1.45" stroke-linejoin="round"/>
<path d="M32.8 371.3L33.9 379.8L35.0 385.6L36.1 389.7L37.2 393.0L38.3 396.4L39.4 400.2L40.6 403.8L41.7 406.8L42.8 409.2L43.9 411.1L45.0 412.5L46.1 413.6L47.2 414.2L48.3 414.3L49.4 414.0L50.5 413.4L51.6 412.4L52.7 411.2L53.8 409.7L55.0 407.9L56.1 406.1L57.2 404.2L58.3 402.2L59.4 400.2L60.5 398.3L61.6 396.3L62.7 394.4L63.8 392.5L64.9 390.7L66.0 389.0L67.1 387.3L68.2 385.7L69.3 384.2L70.5 382.8L71.6 381.5L72.7 380.4L73.8 379.3L74.9 378.4L76.0 377.6L77.1 376.9L78.2 376.4L79.3 375.9L80.4 375.6L81.5 375.4L82.6 375.4L83.7 375.4L84.9 375.6L86.0 375.8L87.1 376.1L88.2 376.6L89.3 377.1L90.4 377.6L91.5 378.2L92.6 378.8L93.7 379.5L94.8 380.2L95.9 380.8L97.0 381.5L98.1 382.2L99.2 382.9L100.4 383.7L101.5 384.4L102.6 385.1L103.7 385.8L104.8 386.4L105.9 387.1L107.0 387.7L108.1 388.3L109.2 388.8L110.3 389.2L111.4 389.6L112.5 389.9L113.6 390.1L114.8 390.2L115.9 390.3L117.0 390.3L118.1 390.2L119.2 390.1L120.3 390.0L121.4 389.9L122.5 389.7L123.6 389.5L124.7 389.4L125.8 389.3L126.9 389.1L128.0 389.0L129.2 388.9L130.3 388.9L131.4 388.8L132.5 388.7L133.6 388.7L134.7 388.6L135.8 388.6L136.9 388.6L138.0 388.5L139.1 388.5L140.2 388.5L141.3 388.5L142.4 388.5L143.6 388.5L144.7 388.5L145.8 388.5L146.9 388.5L148.0 388.5L149.1 388.5L150.2 388.5L151.3 388.5L152.4 388.5L153.5 388.5L154.6 388.5L155.7 388.5L156.8 388.5L157.9 388.5L159.1 388.5L160.2 388.5L161.3 388.5L162.4 388.5L163.5 388.5L164.6 388.5L165.7 388.5L166.8 388.5L167.9 388.5L169.0 388.5L170.1 388.5L171.2 388.5L172.3 388.5L173.5 388.5L174.6 388.5L175.7 388.5L176.8 388.5L177.9 388.5L179.0 388.5L180.1 388.5L181.2 388.5L182.3 388.5L183.4 388.5L184.5 388.5L185.6 388.5L186.7 388.5L187.8 388.5L198.9 388.5L210.0 388.5L221.1 388.5L232.1 388.5L243.2 388.5L254.3 388.5" fill="none" stroke="#6cbf4c" stroke-width="1.35" stroke-linejoin="round"/>
<path d="M32.8 371.3L33.9 379.8L35.0 385.5L36.1 389.5L37.2 392.5L38.3 395.5L39.4 399.0L40.6 402.5L41.7 405.6L42.8 408.2L43.9 410.3L45.0 411.8L46.1 412.9L47.2 413.5L48.3 413.6L49.4 413.3L50.5 412.4L51.6 411.1L52.7 409.3L53.8 407.3L55.0 405.1L56.1 402.9L57.2 400.7L58.3 398.5L59.4 396.5L60.5 394.5L61.6 392.6L62.7 390.8L63.8 389.0L64.9 387.3L66.0 385.7L67.1 384.1L68.2 382.7L69.3 381.2L70.5 379.9L71.6 378.7L72.7 377.5L73.8 376.5L74.9 375.5L76.0 374.7L77.1 373.9L78.2 373.3L79.3 372.8L80.4 372.4L81.5 372.2L82.6 372.1L83.7 372.1L84.9 372.3L86.0 372.5L87.1 372.9L88.2 373.5L89.3 374.0L90.4 374.7L91.5 375.5L92.6 376.3L93.7 377.1L94.8 378.0L95.9 378.9L97.0 379.8L98.1 380.8L99.2 381.7L100.4 382.6L101.5 383.5L102.6 384.4L103.7 385.2L104.8 386.0L105.9 386.7L107.0 387.4L108.1 388.0L109.2 388.6L110.3 389.0L111.4 389.4L112.5 389.7L113.6 389.9L114.8 390.0L115.9 390.0L117.0 390.0L118.1 389.9L119.2 389.7L120.3 389.5L121.4 389.4L122.5 389.1L123.6 388.9L124.7 388.7L125.8 388.6L126.9 388.4L128.0 388.3L129.2 388.2L130.3 388.1L131.4 388.0L132.5 387.9L133.6 387.8L134.7 387.8L135.8 387.7L136.9 387.7L138.0 387.6L139.1 387.6L140.2 387.6L141.3 387.6L142.4 387.5L143.6 387.5L144.7 387.5L145.8 387.5L146.9 387.5L148.0 387.5L149.1 387.5L150.2 387.5L151.3 387.5L152.4 387.5L153.5 387.5L154.6 387.5L155.7 387.5L156.8 387.5L157.9 387.5L159.1 387.5L160.2 387.5L161.3 387.5L162.4 387.5L163.5 387.6L164.6 387.6L165.7 387.6L166.8 387.6L167.9 387.6L169.0 387.6L170.1 387.5L171.2 387.5L172.3 387.5L173.5 387.5L174.6 387.5L175.7 387.5L176.8 387.5L177.9 387.5L179.0 387.5L180.1 387.5L181.2 387.5L182.3 387.5L183.4 387.5L184.5 387.5L185.6 387.5L186.7 387.5L187.8 387.5L198.9 387.5L210.0 387.5L221.1 387.5L232.1 387.5L243.2 387.5L254.3 387.5" fill="none" stroke="#f07a3c" stroke-width="1.4" stroke-linejoin="round"/>
<path d="M32.8 371.3L33.9 379.8L35.0 385.5L36.1 389.4L37.2 392.3L38.3 395.2L39.4 398.5L40.6 401.9L41.7 405.1L42.8 407.8L43.9 409.9L45.0 411.5L46.1 412.6L47.2 413.2L48.3 413.3L49.4 412.9L50.5 412.0L51.6 410.5L52.7 408.5L53.8 406.3L55.0 403.9L56.1 401.5L57.2 399.2L58.3 397.0L59.4 394.9L60.5 392.9L61.6 391.0L62.7 389.2L63.8 387.5L64.9 385.9L66.0 384.3L67.1 382.8L68.2 381.3L69.3 380.0L70.5 378.7L71.6 377.4L72.7 376.3L73.8 375.2L74.9 374.3L76.0 373.4L77.1 372.6L78.2 372.0L79.3 371.4L80.4 371.0L81.5 370.8L82.6 370.6L83.7 370.7L84.9 370.8L86.0 371.2L87.1 371.6L88.2 372.1L89.3 372.7L90.4 373.5L91.5 374.3L92.6 375.2L93.7 376.1L94.8 377.1L95.9 378.1L97.0 379.1L98.1 380.1L99.2 381.2L100.4 382.2L101.5 383.1L102.6 384.1L103.7 385.0L104.8 385.8L105.9 386.6L107.0 387.3L108.1 387.9L109.2 388.5L110.3 389.0L111.4 389.3L112.5 389.6L113.6 389.8L114.8 389.9L115.9 389.9L117.0 389.8L118.1 389.7L119.2 389.5L120.3 389.3L121.4 389.1L122.5 388.9L123.6 388.7L124.7 388.5L125.8 388.3L126.9 388.1L128.0 388.0L129.2 387.8L130.3 387.7L131.4 387.6L132.5 387.5L133.6 387.5L134.7 387.4L135.8 387.3L136.9 387.3L138.0 387.2L139.1 387.2L140.2 387.2L141.3 387.2L142.4 387.1L143.6 387.1L144.7 387.1L145.8 387.1L146.9 387.1L148.0 387.1L149.1 387.1L150.2 387.1L151.3 387.1L152.4 387.1L153.5 387.1L154.6 387.1L155.7 387.1L156.8 387.1L157.9 387.1L159.1 387.1L160.2 387.1L161.3 387.1L162.4 387.1L163.5 387.1L164.6 387.1L165.7 387.1L166.8 387.1L167.9 387.1L169.0 387.1L170.1 387.1L171.2 387.1L172.3 387.1L173.5 387.1L174.6 387.1L175.7 387.1L176.8 387.1L177.9 387.1L179.0 387.1L180.1 387.1L181.2 387.1L182.3 387.1L183.4 387.1L184.5 387.1L185.6 387.1L186.7 387.1L187.8 387.1L198.9 387.1L210.0 387.1L221.1 387.1L232.1 387.1L243.2 387.1L254.3 387.1" fill="none" stroke="#f2200c" stroke-width="1.65" stroke-linejoin="round"/>
<path d="M32.8 371.3L33.9 379.4L35.0 386.4L36.1 392.2L37.2 397.2L38.3 401.6L39.4 405.7L40.6 409.9L41.7 413.9L42.8 417.7L43.9 421.0L45.0 423.9L46.1 426.2L47.2 428.0L48.3 429.1L49.4 429.6L50.5 429.5L51.6 428.8L52.7 427.6L53.8 426.2L55.0 424.5L56.1 422.7L57.2 421.0L58.3 419.3L59.4 417.7L60.5 416.1L61.6 414.5L62.7 412.9L63.8 411.3L64.9 409.6L66.0 408.0L67.1 406.3L68.2 404.5L69.3 402.8L70.5 401.0L71.6 399.3L72.7 397.6L73.8 395.9L74.9 394.2L76.0 392.6L77.1 391.1L78.2 389.6L79.3 388.3L80.4 387.0L81.5 385.7L82.6 384.6L83.7 383.5L84.9 382.4L86.0 381.4L87.1 380.5L88.2 379.7L89.3 378.9L90.4 378.1L91.5 377.4L92.6 376.8L93.7 376.2L94.8 375.7L95.9 375.2L97.0 374.8L98.1 374.4L99.2 374.1L100.4 373.9L101.5 373.7L102.6 373.6L103.7 373.5L104.8 373.5L105.9 373.6L107.0 373.7L108.1 373.8L109.2 374.0L110.3 374.3L111.4 374.6L112.5 374.9L113.6 375.3L114.8 375.8L115.9 376.2L117.0 376.7L118.1 377.2L119.2 377.7L120.3 378.3L121.4 378.8L122.5 379.3L123.6 379.8L124.7 380.3L125.8 380.8L126.9 381.3L128.0 381.7L129.2 382.1L130.3 382.6L131.4 382.9L132.5 383.3L133.6 383.6L134.7 384.0L135.8 384.3L136.9 384.5L138.0 384.8L139.1 385.0L140.2 385.2L141.3 385.4L142.4 385.5L143.6 385.7L144.7 385.8L145.8 385.9L146.9 385.9L148.0 386.0L149.1 386.0L150.2 386.1L151.3 386.1L152.4 386.1L153.5 386.1L154.6 386.1L155.7 386.1L156.8 386.1L157.9 386.1L159.1 386.1L160.2 386.1L161.3 386.1L162.4 386.1L163.5 386.1L164.6 386.1L165.7 386.1L166.8 386.1L167.9 386.1L169.0 386.1L170.1 386.2L171.2 386.2L172.3 386.2L173.5 386.2L174.6 386.2L175.7 386.2L176.8 386.2L177.9 386.2L179.0 386.2L180.1 386.2L181.2 386.2L182.3 386.2L183.4 386.2L184.5 386.2L185.6 386.2L186.7 386.2L187.8 386.2L198.9 386.2L210.0 386.2L221.1 386.2L232.1 386.2L243.2 386.2L254.3 386.2" fill="none" stroke="#1e1e1e" stroke-width="1.1" stroke-linejoin="round"/>
<path d="M32.8 371.3L33.9 379.0L35.0 382.9L36.1 384.2L37.2 383.7L38.3 382.7L39.4 381.3L40.6 379.7L41.7 377.8L42.8 375.6L43.9 373.0L45.0 370.2L46.1 367.3L47.2 364.5L48.3 361.8L49.4 359.3L50.5 357.0L51.6 355.0L52.7 353.2L53.8 351.6L55.0 350.2L56.1 349.1L57.2 348.1L58.3 347.3L59.4 346.5L60.5 345.9L61.6 345.3L62.7 344.8L63.8 344.5L64.9 344.3L66.0 344.2L67.1 344.3L68.2 344.5L69.3 344.9L70.5 345.5L71.6 346.2L72.7 347.1L73.8 348.1L74.9 349.2L76.0 350.6L77.1 352.1L78.2 353.8L79.3 355.6L80.4 357.6L81.5 359.6L82.6 361.7L83.7 363.8L84.9 365.9L86.0 367.8L87.1 369.6L88.2 371.3L89.3 372.7L90.4 374.0L91.5 375.0L92.6 375.7L93.7 376.1L94.8 376.2L95.9 376.0L97.0 375.6L98.1 375.0L99.2 374.4L100.4 373.6L101.5 372.9L102.6 372.1L103.7 371.4L104.8 370.8L105.9 370.3L107.0 369.9L108.1 369.7L109.2 369.5L110.3 369.6L111.4 369.8L112.5 370.2L113.6 370.6L114.8 371.2L115.9 371.8L117.0 372.4L118.1 373.0L119.2 373.5L120.3 374.0L121.4 374.4L122.5 374.7L123.6 374.9L124.7 375.0L125.8 374.9L126.9 374.8L128.0 374.6L129.2 374.3L130.3 374.1L131.4 373.8L132.5 373.5L133.6 373.3L134.7 373.2L135.8 373.1L136.9 373.0L138.0 373.0L139.1 373.0L140.2 373.0L141.3 373.0L142.4 373.1L143.6 373.1L144.7 373.1L145.8 373.1L146.9 373.1L148.0 373.1L149.1 373.2L150.2 373.2L151.3 373.2L152.4 373.2L153.5 373.1L154.6 373.1L155.7 373.1L156.8 373.1L157.9 373.1L159.1 373.1L160.2 373.1L161.3 373.1L162.4 373.1L163.5 373.1L164.6 373.1L165.7 373.1L166.8 373.1L167.9 373.1L169.0 373.1L170.1 373.1L171.2 373.1L172.3 373.1L173.5 373.1L174.6 373.1L175.7 373.1L176.8 373.1L177.9 373.1L179.0 373.1L180.1 373.1L181.2 373.1L182.3 373.1L183.4 373.1L184.5 373.1L185.6 373.1L186.7 373.1L187.8 373.1L198.9 373.1L210.0 373.1L221.1 373.1L232.1 373.1L243.2 373.1L254.3 373.1" fill="none" stroke="#8a8a8a" stroke-width="1.15" stroke-linejoin="round"/>
<rect x="32.80" y="335.10" width="221.50" height="115.10" fill="none" stroke="#4a4a4a" stroke-width="1"/>
<line x1="32.80" y1="450.20" x2="32.80" y2="448.00" stroke="#4a4a4a" stroke-width="0.8"/>
<line x1="32.80" y1="335.10" x2="32.80" y2="337.30" stroke="#4a4a4a" stroke-width="0.8"/>
<text class="tk" x="32.20" y="460.10" text-anchor="middle" textLength="3.89" lengthAdjust="spacingAndGlyphs">0</text>
<line x1="77.10" y1="450.20" x2="77.10" y2="448.00" stroke="#4a4a4a" stroke-width="0.8"/>
<line x1="77.10" y1="335.10" x2="77.10" y2="337.30" stroke="#4a4a4a" stroke-width="0.8"/>
<text class="tk" x="76.50" y="460.10" text-anchor="middle" textLength="9.73" lengthAdjust="spacingAndGlyphs">0.2</text>
<line x1="121.40" y1="450.20" x2="121.40" y2="448.00" stroke="#4a4a4a" stroke-width="0.8"/>
<line x1="121.40" y1="335.10" x2="121.40" y2="337.30" stroke="#4a4a4a" stroke-width="0.8"/>
<text class="tk" x="120.80" y="460.10" text-anchor="middle" textLength="9.73" lengthAdjust="spacingAndGlyphs">0.4</text>
<line x1="165.70" y1="450.20" x2="165.70" y2="448.00" stroke="#4a4a4a" stroke-width="0.8"/>
<line x1="165.70" y1="335.10" x2="165.70" y2="337.30" stroke="#4a4a4a" stroke-width="0.8"/>
<text class="tk" x="165.10" y="460.10" text-anchor="middle" textLength="9.73" lengthAdjust="spacingAndGlyphs">0.6</text>
<line x1="210.00" y1="450.20" x2="210.00" y2="448.00" stroke="#4a4a4a" stroke-width="0.8"/>
<line x1="210.00" y1="335.10" x2="210.00" y2="337.30" stroke="#4a4a4a" stroke-width="0.8"/>
<text class="tk" x="209.40" y="460.10" text-anchor="middle" textLength="9.73" lengthAdjust="spacingAndGlyphs">0.8</text>
<line x1="254.30" y1="450.20" x2="254.30" y2="448.00" stroke="#4a4a4a" stroke-width="0.8"/>
<line x1="254.30" y1="335.10" x2="254.30" y2="337.30" stroke="#4a4a4a" stroke-width="0.8"/>
<text class="tk" x="253.70" y="460.10" text-anchor="middle" textLength="3.89" lengthAdjust="spacingAndGlyphs">1</text>
<line x1="32.80" y1="450.20" x2="35.00" y2="450.20" stroke="#4a4a4a" stroke-width="0.8"/>
<line x1="254.30" y1="450.20" x2="252.10" y2="450.20" stroke="#4a4a4a" stroke-width="0.8"/>
<text class="tk" x="28.50" y="452.90" text-anchor="end" textLength="7.78" lengthAdjust="spacingAndGlyphs">50</text>
<line x1="32.80" y1="427.18" x2="35.00" y2="427.18" stroke="#4a4a4a" stroke-width="0.8"/>
<line x1="254.30" y1="427.18" x2="252.10" y2="427.18" stroke="#4a4a4a" stroke-width="0.8"/>
<text class="tk" x="28.50" y="429.88" text-anchor="end" textLength="11.68" lengthAdjust="spacingAndGlyphs">100</text>
<line x1="32.80" y1="404.16" x2="35.00" y2="404.16" stroke="#4a4a4a" stroke-width="0.8"/>
<line x1="254.30" y1="404.16" x2="252.10" y2="404.16" stroke="#4a4a4a" stroke-width="0.8"/>
<text class="tk" x="28.50" y="406.86" text-anchor="end" textLength="11.68" lengthAdjust="spacingAndGlyphs">150</text>
<line x1="32.80" y1="381.14" x2="35.00" y2="381.14" stroke="#4a4a4a" stroke-width="0.8"/>
<line x1="254.30" y1="381.14" x2="252.10" y2="381.14" stroke="#4a4a4a" stroke-width="0.8"/>
<text class="tk" x="28.50" y="383.84" text-anchor="end" textLength="11.68" lengthAdjust="spacingAndGlyphs">200</text>
<line x1="32.80" y1="358.12" x2="35.00" y2="358.12" stroke="#4a4a4a" stroke-width="0.8"/>
<line x1="254.30" y1="358.12" x2="252.10" y2="358.12" stroke="#4a4a4a" stroke-width="0.8"/>
<text class="tk" x="28.50" y="360.82" text-anchor="end" textLength="11.68" lengthAdjust="spacingAndGlyphs">250</text>
<line x1="32.80" y1="335.10" x2="35.00" y2="335.10" stroke="#4a4a4a" stroke-width="0.8"/>
<line x1="254.30" y1="335.10" x2="252.10" y2="335.10" stroke="#4a4a4a" stroke-width="0.8"/>
<text class="tk" x="28.50" y="337.80" text-anchor="end" textLength="11.68" lengthAdjust="spacingAndGlyphs">300</text>
<text class="bl" x="143.15" y="330.50" text-anchor="middle">(e)</text>
<text class="bl" x="143.85" y="471.90" text-anchor="middle" transform="translate(143.85 0) scale(0.96 1) translate(-143.85 0)">Time&#160;&#160;<tspan font-style="italic">t</tspan> (s)</text>
<text class="bl" transform="translate(9.70 392.65) rotate(-90) scale(0.95 1)" text-anchor="middle">COM Displacement&#160;&#160;<tspan font-style="italic">d</tspan><tspan font-style="italic" font-size="7px" dy="2.6">COM,y</tspan><tspan dy="-2.6"> (mm)</tspan></text>
<rect x="42.80" y="433.80" width="201.50" height="10.70" fill="#fff" stroke="#5a5a5a" stroke-width="0.9"/>
<line x1="45.00" y1="439.15" x2="55.40" y2="439.15" stroke="#3858aa" stroke-width="1.45"/>
<text class="lg" x="56.70" y="441.45" textLength="14.6" lengthAdjust="spacingAndGlyphs">0.0A</text>
<line x1="75.20" y1="439.15" x2="85.60" y2="439.15" stroke="#6cbf4c" stroke-width="1.35"/>
<text class="lg" x="87.40" y="441.45" textLength="13.6" lengthAdjust="spacingAndGlyphs">1.0A</text>
<line x1="105.70" y1="439.15" x2="116.10" y2="439.15" stroke="#f07a3c" stroke-width="1.4"/>
<text class="lg" x="117.40" y="441.45" textLength="14.8" lengthAdjust="spacingAndGlyphs">2.0A</text>
<line x1="136.30" y1="439.15" x2="146.70" y2="439.15" stroke="#f2200c" stroke-width="1.65"/>
<text class="lg" x="148.00" y="441.45" textLength="14.4" lengthAdjust="spacingAndGlyphs">3.0A</text>
<line x1="166.90" y1="439.15" x2="177.30" y2="439.15" stroke="#1e1e1e" stroke-width="1.2"/>
<text class="lg" x="178.40" y="441.45" textLength="32.4" lengthAdjust="spacingAndGlyphs">No Damper</text>
<line x1="214.80" y1="439.15" x2="225.20" y2="439.15" stroke="#8a8a8a" stroke-width="1.2"/>
<text class="lg" x="226.00" y="441.45" textLength="15.2" lengthAdjust="spacingAndGlyphs">Rigid</text>
</g>
<g>
<line x1="324.80" y1="428.65" x2="544.50" y2="428.65" stroke="#b0b0b0" stroke-width="1" stroke-dasharray="5.1 3.4"/>
<path d="M324.5 370.8L325.6 381.0L326.7 387.0L327.8 391.3L328.9 395.9L330.0 400.5L331.1 404.3L332.2 407.1L333.3 409.4L334.4 411.6L335.6 414.2L336.7 417.4L337.8 420.3L338.9 422.2L340.0 423.2L341.1 423.3L342.2 422.9L343.3 422.2L344.4 421.2L345.5 420.1L346.6 418.8L347.7 417.5L348.8 416.1L349.9 414.6L351.0 413.1L352.1 411.5L353.2 409.8L354.3 408.2L355.4 406.6L356.5 404.9L357.6 403.3L358.8 401.7L359.9 400.1L361.0 398.6L362.1 397.1L363.2 395.6L364.3 394.2L365.4 392.8L366.5 391.4L367.6 390.1L368.7 388.9L369.8 387.7L370.9 386.6L372.0 385.5L373.1 384.6L374.2 383.7L375.3 383.0L376.4 382.4L377.5 382.0L378.6 381.7L379.8 381.6L380.9 381.6L382.0 381.9L383.1 382.2L384.2 382.6L385.3 383.2L386.4 383.8L387.5 384.5L388.6 385.2L389.7 385.9L390.8 386.7L391.9 387.5L393.0 388.2L394.1 388.9L395.2 389.5L396.3 390.1L397.4 390.7L398.5 391.2L399.6 391.6L400.7 392.0L401.9 392.4L403.0 392.7L404.1 392.9L405.2 393.1L406.3 393.2L407.4 393.3L408.5 393.3L409.6 393.3L410.7 393.3L411.8 393.2L412.9 393.1L414.0 393.0L415.1 392.9L416.2 392.8L417.3 392.7L418.4 392.7L419.5 392.6L420.6 392.6L421.7 392.5L422.8 392.5L423.9 392.5L425.1 392.5L426.2 392.5L427.3 392.5L428.4 392.5L429.5 392.5L430.6 392.5L431.7 392.5L432.8 392.5L433.9 392.5L435.0 392.6L436.1 392.6L437.2 392.6L438.3 392.6L439.4 392.6L440.5 392.6L441.6 392.6L442.7 392.6L443.8 392.6L444.9 392.6L446.1 392.6L447.2 392.6L448.3 392.6L449.4 392.6L450.5 392.6L451.6 392.6L452.7 392.6L453.8 392.6L454.9 392.6L456.0 392.6L457.1 392.5L458.2 392.5L459.3 392.5L460.4 392.5L461.5 392.5L462.6 392.6L463.7 392.6L464.8 392.6L465.9 392.6L467.0 392.6L468.1 392.6L469.3 392.6L470.4 392.6L471.5 392.6L472.6 392.6L473.7 392.6L474.8 392.6L475.9 392.6L477.0 392.6L478.1 392.6L479.2 392.6L490.2 392.6L501.3 392.6L512.4 392.6L523.4 392.6L534.5 392.6L545.5 392.6" fill="none" stroke="#3858aa" stroke-width="1.45" stroke-linejoin="round"/>
<path d="M324.5 370.8L325.6 381.0L326.7 387.1L327.8 391.3L328.9 395.5L330.0 399.7L331.1 403.7L332.2 407.2L333.3 410.3L334.4 413.1L335.6 415.7L336.7 417.8L337.8 419.1L338.9 419.7L340.0 419.8L341.1 419.4L342.2 418.6L343.3 417.5L344.4 416.2L345.5 414.6L346.6 412.8L347.7 410.8L348.8 408.7L349.9 406.5L351.0 404.3L352.1 401.9L353.2 399.6L354.3 397.3L355.4 395.1L356.5 392.9L357.6 390.9L358.8 389.0L359.9 387.2L361.0 385.6L362.1 384.0L363.2 382.6L364.3 381.3L365.4 380.1L366.5 379.0L367.6 378.0L368.7 377.0L369.8 376.1L370.9 375.3L372.0 374.6L373.1 374.0L374.2 373.5L375.3 373.1L376.4 372.9L377.5 372.8L378.6 372.9L379.8 373.1L380.9 373.5L382.0 374.0L383.1 374.6L384.2 375.3L385.3 376.1L386.4 376.9L387.5 377.9L388.6 378.8L389.7 379.8L390.8 380.9L391.9 381.9L393.0 383.0L394.1 384.0L395.2 385.0L396.3 386.0L397.4 387.0L398.5 387.9L399.6 388.8L400.7 389.6L401.9 390.3L403.0 391.0L404.1 391.6L405.2 392.1L406.3 392.5L407.4 392.9L408.5 393.2L409.6 393.4L410.7 393.6L411.8 393.7L412.9 393.8L414.0 393.8L415.1 393.8L416.2 393.8L417.3 393.7L418.4 393.5L419.5 393.4L420.6 393.2L421.7 393.0L422.8 392.9L423.9 392.6L425.1 392.4L426.2 392.2L427.3 392.0L428.4 391.8L429.5 391.6L430.6 391.4L431.7 391.2L432.8 391.1L433.9 390.9L435.0 390.7L436.1 390.5L437.2 390.4L438.3 390.2L439.4 390.1L440.5 390.0L441.6 389.9L442.7 389.8L443.8 389.7L444.9 389.7L446.1 389.6L447.2 389.6L448.3 389.5L449.4 389.5L450.5 389.5L451.6 389.5L452.7 389.5L453.8 389.4L454.9 389.4L456.0 389.4L457.1 389.4L458.2 389.4L459.3 389.4L460.4 389.4L461.5 389.4L462.6 389.4L463.7 389.4L464.8 389.4L465.9 389.4L467.0 389.4L468.1 389.4L469.3 389.4L470.4 389.4L471.5 389.4L472.6 389.4L473.7 389.4L474.8 389.4L475.9 389.4L477.0 389.4L478.1 389.4L479.2 389.4L490.2 389.4L501.3 389.4L512.4 389.4L523.4 389.4L534.5 389.4L545.5 389.4" fill="none" stroke="#6cbf4c" stroke-width="1.35" stroke-linejoin="round"/>
<path d="M324.5 370.8L325.6 381.0L326.7 387.1L327.8 391.3L328.9 395.5L330.0 399.7L331.1 403.7L332.2 407.2L333.3 410.3L334.4 413.1L335.6 415.7L336.7 417.8L337.8 419.2L338.9 419.8L340.0 419.8L341.1 419.3L342.2 418.5L343.3 417.5L344.4 416.2L345.5 414.7L346.6 413.0L347.7 411.0L348.8 408.6L349.9 406.1L351.0 403.5L352.1 400.8L353.2 398.0L354.3 395.3L355.4 392.6L356.5 390.1L357.6 387.8L358.8 385.8L359.9 383.9L361.0 382.3L362.1 380.8L363.2 379.5L364.3 378.3L365.4 377.2L366.5 376.2L367.6 375.3L368.7 374.4L369.8 373.6L370.9 372.7L372.0 371.9L373.1 371.3L374.2 370.7L375.3 370.3L376.4 370.0L377.5 370.0L378.6 370.2L379.8 370.5L380.9 371.0L382.0 371.7L383.1 372.4L384.2 373.3L385.3 374.3L386.4 375.3L387.5 376.4L388.6 377.4L389.7 378.5L390.8 379.6L391.9 380.7L393.0 381.8L394.1 382.9L395.2 383.9L396.3 384.9L397.4 385.9L398.5 386.9L399.6 387.8L400.7 388.7L401.9 389.5L403.0 390.2L404.1 390.9L405.2 391.6L406.3 392.1L407.4 392.7L408.5 393.1L409.6 393.5L410.7 393.8L411.8 394.0L412.9 394.2L414.0 394.3L415.1 394.3L416.2 394.2L417.3 394.2L418.4 394.0L419.5 393.8L420.6 393.6L421.7 393.4L422.8 393.1L423.9 392.8L425.1 392.4L426.2 392.1L427.3 391.7L428.4 391.4L429.5 391.1L430.6 390.7L431.7 390.4L432.8 390.1L433.9 389.8L435.0 389.5L436.1 389.3L437.2 389.1L438.3 388.9L439.4 388.8L440.5 388.7L441.6 388.6L442.7 388.6L443.8 388.5L444.9 388.5L446.1 388.5L447.2 388.5L448.3 388.5L449.4 388.5L450.5 388.5L451.6 388.6L452.7 388.6L453.8 388.6L454.9 388.6L456.0 388.6L457.1 388.6L458.2 388.6L459.3 388.6L460.4 388.6L461.5 388.6L462.6 388.6L463.7 388.6L464.8 388.6L465.9 388.6L467.0 388.6L468.1 388.6L469.3 388.6L470.4 388.6L471.5 388.5L472.6 388.5L473.7 388.5L474.8 388.5L475.9 388.5L477.0 388.5L478.1 388.5L479.2 388.5L490.2 388.6L501.3 388.6L512.4 388.6L523.4 388.6L534.5 388.6L545.5 388.6" fill="none" stroke="#f07a3c" stroke-width="1.4" stroke-linejoin="round"/>
<path d="M324.5 370.8L325.6 381.0L326.7 387.1L327.8 391.3L328.9 395.5L330.0 399.7L331.1 403.7L332.2 407.2L333.3 410.3L334.4 413.1L335.6 415.7L336.7 417.8L337.8 419.2L338.9 419.8L340.0 419.8L341.1 419.3L342.2 418.4L343.3 417.4L344.4 416.2L345.5 414.8L346.6 413.1L347.7 411.0L348.8 408.6L349.9 406.0L351.0 403.2L352.1 400.3L353.2 397.3L354.3 394.4L355.4 391.6L356.5 388.9L357.6 386.5L358.8 384.4L359.9 382.5L361.0 380.9L362.1 379.4L363.2 378.1L364.3 377.0L365.4 376.0L366.5 375.0L367.6 374.2L368.7 373.3L369.8 372.5L370.9 371.6L372.0 370.8L373.1 370.1L374.2 369.5L375.3 369.0L376.4 368.8L377.5 368.8L378.6 369.0L379.8 369.4L380.9 370.0L382.0 370.7L383.1 371.5L384.2 372.5L385.3 373.5L386.4 374.6L387.5 375.7L388.6 376.9L389.7 378.0L390.8 379.1L391.9 380.2L393.0 381.3L394.1 382.4L395.2 383.4L396.3 384.5L397.4 385.5L398.5 386.4L399.6 387.4L400.7 388.3L401.9 389.1L403.0 389.9L404.1 390.7L405.2 391.3L406.3 392.0L407.4 392.5L408.5 393.1L409.6 393.5L410.7 393.8L411.8 394.1L412.9 394.3L414.0 394.4L415.1 394.5L416.2 394.5L417.3 394.4L418.4 394.2L419.5 394.0L420.6 393.8L421.7 393.5L422.8 393.2L423.9 392.8L425.1 392.4L426.2 392.0L427.3 391.6L428.4 391.2L429.5 390.8L430.6 390.4L431.7 390.0L432.8 389.7L433.9 389.3L435.0 389.0L436.1 388.8L437.2 388.6L438.3 388.4L439.4 388.3L440.5 388.2L441.6 388.1L442.7 388.0L443.8 388.0L444.9 388.0L446.1 388.0L447.2 388.0L448.3 388.1L449.4 388.1L450.5 388.1L451.6 388.2L452.7 388.2L453.8 388.2L454.9 388.2L456.0 388.3L457.1 388.3L458.2 388.3L459.3 388.3L460.4 388.3L461.5 388.3L462.6 388.3L463.7 388.2L464.8 388.2L465.9 388.2L467.0 388.2L468.1 388.2L469.3 388.2L470.4 388.2L471.5 388.2L472.6 388.2L473.7 388.2L474.8 388.2L475.9 388.2L477.0 388.2L478.1 388.2L479.2 388.2L490.2 388.2L501.3 388.2L512.4 388.2L523.4 388.2L534.5 388.2L545.5 388.2" fill="none" stroke="#f2200c" stroke-width="1.65" stroke-linejoin="round"/>
<path d="M324.5 370.8L325.6 381.0L326.7 386.7L327.8 391.3L328.9 397.1L330.0 402.9L331.1 407.1L332.2 410.7L333.3 415.0L334.4 420.4L335.6 425.6L336.7 429.0L337.8 429.4L338.9 428.3L340.0 427.3L341.1 426.3L342.2 425.2L343.3 423.9L344.4 422.4L345.5 420.6L346.6 418.4L347.7 415.8L348.8 412.8L349.9 409.5L351.0 406.0L352.1 402.3L353.2 398.7L354.3 395.0L355.4 391.5L356.5 388.2L357.6 385.2L358.8 382.6L359.9 380.2L361.0 378.2L362.1 376.4L363.2 374.8L364.3 373.4L365.4 372.1L366.5 370.9L367.6 369.8L368.7 368.8L369.8 367.7L370.9 366.6L372.0 365.5L373.1 364.5L374.2 363.5L375.3 362.7L376.4 362.1L377.5 361.7L378.6 361.5L379.8 361.6L380.9 361.9L382.0 362.4L383.1 363.1L384.2 364.0L385.3 365.0L386.4 366.1L387.5 367.3L388.6 368.6L389.7 369.9L390.8 371.3L391.9 372.6L393.0 374.0L394.1 375.4L395.2 376.7L396.3 378.1L397.4 379.4L398.5 380.6L399.6 381.9L400.7 383.1L401.9 384.2L403.0 385.3L404.1 386.4L405.2 387.4L406.3 388.3L407.4 389.2L408.5 390.0L409.6 390.7L410.7 391.4L411.8 392.0L412.9 392.6L414.0 393.1L415.1 393.6L416.2 394.0L417.3 394.3L418.4 394.6L419.5 394.9L420.6 395.1L421.7 395.2L422.8 395.3L423.9 395.3L425.1 395.3L426.2 395.2L427.3 395.1L428.4 394.9L429.5 394.7L430.6 394.5L431.7 394.3L432.8 394.0L433.9 393.7L435.0 393.4L436.1 393.2L437.2 392.9L438.3 392.7L439.4 392.4L440.5 392.1L441.6 391.9L442.7 391.7L443.8 391.4L444.9 391.2L446.1 391.0L447.2 390.8L448.3 390.5L449.4 390.3L450.5 390.1L451.6 390.0L452.7 389.8L453.8 389.6L454.9 389.4L456.0 389.3L457.1 389.1L458.2 389.0L459.3 388.8L460.4 388.7L461.5 388.6L462.6 388.5L463.7 388.3L464.8 388.2L465.9 388.1L467.0 388.0L468.1 387.9L469.3 387.9L470.4 387.8L471.5 387.7L472.6 387.6L473.7 387.6L474.8 387.5L475.9 387.5L477.0 387.4L478.1 387.4L479.2 387.4L490.2 387.2L501.3 387.2L512.4 387.2L523.4 387.2L534.5 387.2L545.5 387.2" fill="none" stroke="#1e1e1e" stroke-width="1.1" stroke-linejoin="round"/>
<path d="M324.5 370.8L325.6 380.2L326.7 384.0L327.8 384.2L328.9 382.5L330.0 379.7L331.1 376.5L332.2 373.4L333.3 370.5L334.4 367.6L335.6 365.0L336.7 362.4L337.8 360.0L338.9 357.6L340.0 355.5L341.1 353.4L342.2 351.5L343.3 349.8L344.4 348.2L345.5 346.8L346.6 345.6L347.7 344.5L348.8 343.6L349.9 342.8L351.0 342.2L352.1 341.7L353.2 341.4L354.3 341.1L355.4 340.9L356.5 340.9L357.6 340.9L358.8 341.0L359.9 341.2L361.0 341.4L362.1 341.8L363.2 342.2L364.3 342.7L365.4 343.4L366.5 344.2L367.6 345.1L368.7 346.1L369.8 347.3L370.9 348.6L372.0 350.1L373.1 351.8L374.2 353.5L375.3 355.5L376.4 357.6L377.5 359.8L378.6 362.2L379.8 364.7L380.9 367.3L382.0 369.8L383.1 372.1L384.2 374.2L385.3 375.9L386.4 377.0L387.5 377.7L388.6 378.0L389.7 378.0L390.8 377.7L391.9 377.2L393.0 376.5L394.1 375.6L395.2 374.7L396.3 373.8L397.4 372.9L398.5 372.0L399.6 371.1L400.7 370.4L401.9 369.9L403.0 369.5L404.1 369.3L405.2 369.4L406.3 369.6L407.4 370.1L408.5 370.7L409.6 371.3L410.7 371.9L411.8 372.5L412.9 373.0L414.0 373.4L415.1 373.7L416.2 373.9L417.3 374.1L418.4 374.1L419.5 374.1L420.6 374.0L421.7 373.8L422.8 373.6L423.9 373.5L425.1 373.3L426.2 373.1L427.3 372.9L428.4 372.8L429.5 372.7L430.6 372.7L431.7 372.6L432.8 372.6L433.9 372.6L435.0 372.6L436.1 372.6L437.2 372.6L438.3 372.7L439.4 372.7L440.5 372.7L441.6 372.8L442.7 372.8L443.8 372.9L444.9 372.9L446.1 372.9L447.2 372.9L448.3 372.9L449.4 372.9L450.5 372.9L451.6 372.9L452.7 372.9L453.8 372.9L454.9 372.9L456.0 372.9L457.1 372.9L458.2 372.9L459.3 372.9L460.4 372.9L461.5 372.9L462.6 372.8L463.7 372.8L464.8 372.8L465.9 372.8L467.0 372.8L468.1 372.8L469.3 372.8L470.4 372.8L471.5 372.8L472.6 372.8L473.7 372.8L474.8 372.8L475.9 372.8L477.0 372.8L478.1 372.9L479.2 372.9L490.2 372.9L501.3 372.9L512.4 372.9L523.4 372.9L534.5 372.9L545.5 372.9" fill="none" stroke="#8a8a8a" stroke-width="1.15" stroke-linejoin="round"/>
<rect x="324.50" y="335.10" width="221.00" height="115.10" fill="none" stroke="#4a4a4a" stroke-width="1"/>
<line x1="324.50" y1="450.20" x2="324.50" y2="448.00" stroke="#4a4a4a" stroke-width="0.8"/>
<line x1="324.50" y1="335.10" x2="324.50" y2="337.30" stroke="#4a4a4a" stroke-width="0.8"/>
<text class="tk" x="323.90" y="460.10" text-anchor="middle" textLength="3.89" lengthAdjust="spacingAndGlyphs">0</text>
<line x1="368.70" y1="450.20" x2="368.70" y2="448.00" stroke="#4a4a4a" stroke-width="0.8"/>
<line x1="368.70" y1="335.10" x2="368.70" y2="337.30" stroke="#4a4a4a" stroke-width="0.8"/>
<text class="tk" x="368.10" y="460.10" text-anchor="middle" textLength="9.73" lengthAdjust="spacingAndGlyphs">0.2</text>
<line x1="412.90" y1="450.20" x2="412.90" y2="448.00" stroke="#4a4a4a" stroke-width="0.8"/>
<line x1="412.90" y1="335.10" x2="412.90" y2="337.30" stroke="#4a4a4a" stroke-width="0.8"/>
<text class="tk" x="412.30" y="460.10" text-anchor="middle" textLength="9.73" lengthAdjust="spacingAndGlyphs">0.4</text>
<line x1="457.10" y1="450.20" x2="457.10" y2="448.00" stroke="#4a4a4a" stroke-width="0.8"/>
<line x1="457.10" y1="335.10" x2="457.10" y2="337.30" stroke="#4a4a4a" stroke-width="0.8"/>
<text class="tk" x="456.50" y="460.10" text-anchor="middle" textLength="9.73" lengthAdjust="spacingAndGlyphs">0.6</text>
<line x1="501.30" y1="450.20" x2="501.30" y2="448.00" stroke="#4a4a4a" stroke-width="0.8"/>
<line x1="501.30" y1="335.10" x2="501.30" y2="337.30" stroke="#4a4a4a" stroke-width="0.8"/>
<text class="tk" x="500.70" y="460.10" text-anchor="middle" textLength="9.73" lengthAdjust="spacingAndGlyphs">0.8</text>
<line x1="545.50" y1="450.20" x2="545.50" y2="448.00" stroke="#4a4a4a" stroke-width="0.8"/>
<line x1="545.50" y1="335.10" x2="545.50" y2="337.30" stroke="#4a4a4a" stroke-width="0.8"/>
<text class="tk" x="544.90" y="460.10" text-anchor="middle" textLength="3.89" lengthAdjust="spacingAndGlyphs">1</text>
<line x1="324.50" y1="450.20" x2="326.70" y2="450.20" stroke="#4a4a4a" stroke-width="0.8"/>
<line x1="545.50" y1="450.20" x2="543.30" y2="450.20" stroke="#4a4a4a" stroke-width="0.8"/>
<text class="tk" x="320.20" y="452.90" text-anchor="end" textLength="7.78" lengthAdjust="spacingAndGlyphs">50</text>
<line x1="324.50" y1="427.18" x2="326.70" y2="427.18" stroke="#4a4a4a" stroke-width="0.8"/>
<line x1="545.50" y1="427.18" x2="543.30" y2="427.18" stroke="#4a4a4a" stroke-width="0.8"/>
<text class="tk" x="320.20" y="429.88" text-anchor="end" textLength="11.68" lengthAdjust="spacingAndGlyphs">100</text>
<line x1="324.50" y1="404.16" x2="326.70" y2="404.16" stroke="#4a4a4a" stroke-width="0.8"/>
<line x1="545.50" y1="404.16" x2="543.30" y2="404.16" stroke="#4a4a4a" stroke-width="0.8"/>
<text class="tk" x="320.20" y="406.86" text-anchor="end" textLength="11.68" lengthAdjust="spacingAndGlyphs">150</text>
<line x1="324.50" y1="381.14" x2="326.70" y2="381.14" stroke="#4a4a4a" stroke-width="0.8"/>
<line x1="545.50" y1="381.14" x2="543.30" y2="381.14" stroke="#4a4a4a" stroke-width="0.8"/>
<text class="tk" x="320.20" y="383.84" text-anchor="end" textLength="11.68" lengthAdjust="spacingAndGlyphs">200</text>
<line x1="324.50" y1="358.12" x2="326.70" y2="358.12" stroke="#4a4a4a" stroke-width="0.8"/>
<line x1="545.50" y1="358.12" x2="543.30" y2="358.12" stroke="#4a4a4a" stroke-width="0.8"/>
<text class="tk" x="320.20" y="360.82" text-anchor="end" textLength="11.68" lengthAdjust="spacingAndGlyphs">250</text>
<line x1="324.50" y1="335.10" x2="326.70" y2="335.10" stroke="#4a4a4a" stroke-width="0.8"/>
<line x1="545.50" y1="335.10" x2="543.30" y2="335.10" stroke="#4a4a4a" stroke-width="0.8"/>
<text class="tk" x="320.20" y="337.80" text-anchor="end" textLength="11.68" lengthAdjust="spacingAndGlyphs">300</text>
<text class="bl" x="434.60" y="330.50" text-anchor="middle">(f)</text>
<text class="bl" x="435.30" y="471.90" text-anchor="middle" transform="translate(435.30 0) scale(0.96 1) translate(-435.30 0)">Time&#160;&#160;<tspan font-style="italic">t</tspan> (s)</text>
<text class="bl" transform="translate(301.40 392.65) rotate(-90) scale(0.95 1)" text-anchor="middle">COM Displacement&#160;&#160;<tspan font-style="italic">d</tspan><tspan font-style="italic" font-size="7px" dy="2.6">COM,y</tspan><tspan dy="-2.6"> (mm)</tspan></text>
<rect x="334.50" y="433.80" width="201.00" height="10.70" fill="#fff" stroke="#5a5a5a" stroke-width="0.9"/>
<line x1="336.70" y1="439.15" x2="347.10" y2="439.15" stroke="#3858aa" stroke-width="1.45"/>
<text class="lg" x="348.40" y="441.45" textLength="14.6" lengthAdjust="spacingAndGlyphs">0.0A</text>
<line x1="366.90" y1="439.15" x2="377.30" y2="439.15" stroke="#6cbf4c" stroke-width="1.35"/>
<text class="lg" x="379.10" y="441.45" textLength="13.6" lengthAdjust="spacingAndGlyphs">1.0A</text>
<line x1="397.40" y1="439.15" x2="407.80" y2="439.15" stroke="#f07a3c" stroke-width="1.4"/>
<text class="lg" x="409.10" y="441.45" textLength="14.8" lengthAdjust="spacingAndGlyphs">2.0A</text>
<line x1="428.00" y1="439.15" x2="438.40" y2="439.15" stroke="#f2200c" stroke-width="1.65"/>
<text class="lg" x="439.70" y="441.45" textLength="14.4" lengthAdjust="spacingAndGlyphs">3.0A</text>
<line x1="458.60" y1="439.15" x2="469.00" y2="439.15" stroke="#1e1e1e" stroke-width="1.2"/>
<text class="lg" x="470.10" y="441.45" textLength="32.4" lengthAdjust="spacingAndGlyphs">No Damper</text>
<line x1="506.50" y1="439.15" x2="516.90" y2="439.15" stroke="#8a8a8a" stroke-width="1.2"/>
<text class="lg" x="517.70" y="441.45" textLength="15.2" lengthAdjust="spacingAndGlyphs">Rigid</text>
</g>
</svg>
</body></html>
